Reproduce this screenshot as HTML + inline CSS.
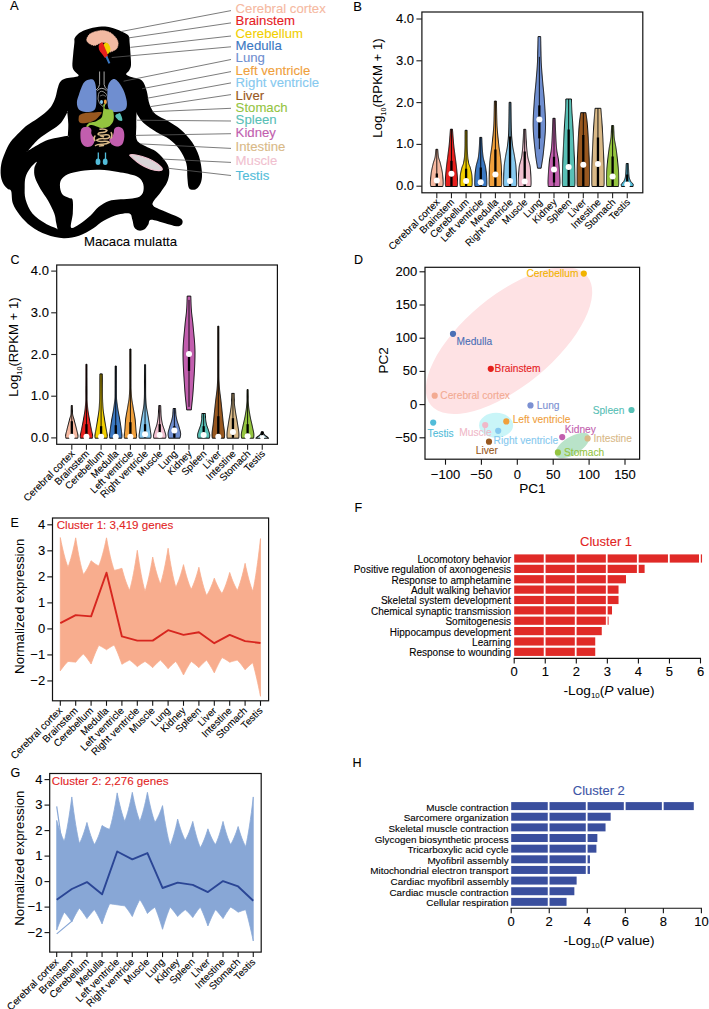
<!DOCTYPE html>
<html><head><meta charset="utf-8"><style>
html,body{margin:0;padding:0;background:#fff;width:709px;height:1009px;overflow:hidden}
svg{display:block}
text{font-family:"Liberation Sans", sans-serif}
</style></head><body>
<svg width="709" height="1009" viewBox="0 0 709 1009" style="font-family:'Liberation Sans', sans-serif">
<rect width="709" height="1009" fill="#fff"/>
<rect x="421.90" y="12.00" width="220.90" height="180.80" fill="none" stroke="#111" stroke-width="1.2"/>
<line x1="416.40" y1="186.20" x2="421.90" y2="186.20" stroke="#222" stroke-width="1.1"/>
<text x="414.10" y="185.70" font-size="13" fill="#000" stroke="#000" stroke-width="0.1" text-anchor="end" dominant-baseline="central">0.0</text>
<line x1="416.40" y1="144.40" x2="421.90" y2="144.40" stroke="#222" stroke-width="1.1"/>
<text x="414.10" y="143.90" font-size="13" fill="#000" stroke="#000" stroke-width="0.1" text-anchor="end" dominant-baseline="central">1.0</text>
<line x1="416.40" y1="102.60" x2="421.90" y2="102.60" stroke="#222" stroke-width="1.1"/>
<text x="414.10" y="102.10" font-size="13" fill="#000" stroke="#000" stroke-width="0.1" text-anchor="end" dominant-baseline="central">2.0</text>
<line x1="416.40" y1="60.80" x2="421.90" y2="60.80" stroke="#222" stroke-width="1.1"/>
<text x="414.10" y="60.30" font-size="13" fill="#000" stroke="#000" stroke-width="0.1" text-anchor="end" dominant-baseline="central">3.0</text>
<line x1="416.40" y1="19.00" x2="421.90" y2="19.00" stroke="#222" stroke-width="1.1"/>
<text x="414.10" y="18.50" font-size="13" fill="#000" stroke="#000" stroke-width="0.1" text-anchor="end" dominant-baseline="central">4.0</text>
<line x1="436.80" y1="192.80" x2="436.80" y2="198.30" stroke="#222" stroke-width="1.1"/>
<line x1="451.45" y1="192.80" x2="451.45" y2="198.30" stroke="#222" stroke-width="1.1"/>
<line x1="466.10" y1="192.80" x2="466.10" y2="198.30" stroke="#222" stroke-width="1.1"/>
<line x1="480.75" y1="192.80" x2="480.75" y2="198.30" stroke="#222" stroke-width="1.1"/>
<line x1="495.40" y1="192.80" x2="495.40" y2="198.30" stroke="#222" stroke-width="1.1"/>
<line x1="510.05" y1="192.80" x2="510.05" y2="198.30" stroke="#222" stroke-width="1.1"/>
<line x1="524.70" y1="192.80" x2="524.70" y2="198.30" stroke="#222" stroke-width="1.1"/>
<line x1="539.35" y1="192.80" x2="539.35" y2="198.30" stroke="#222" stroke-width="1.1"/>
<line x1="554.00" y1="192.80" x2="554.00" y2="198.30" stroke="#222" stroke-width="1.1"/>
<line x1="568.65" y1="192.80" x2="568.65" y2="198.30" stroke="#222" stroke-width="1.1"/>
<line x1="583.30" y1="192.80" x2="583.30" y2="198.30" stroke="#222" stroke-width="1.1"/>
<line x1="597.95" y1="192.80" x2="597.95" y2="198.30" stroke="#222" stroke-width="1.1"/>
<line x1="612.60" y1="192.80" x2="612.60" y2="198.30" stroke="#222" stroke-width="1.1"/>
<line x1="627.25" y1="192.80" x2="627.25" y2="198.30" stroke="#222" stroke-width="1.1"/>
<path d="M442.80,186.50 L442.96,185.50 L443.13,184.50 L443.20,183.50 L443.19,182.40 L443.15,181.30 L443.09,180.20 L443.01,179.10 L442.92,178.00 L442.82,176.90 L442.71,175.80 L442.60,174.70 L442.48,173.68 L442.34,172.66 L442.18,171.65 L441.99,170.63 L441.79,169.61 L441.58,168.59 L441.35,167.57 L441.12,166.55 L440.88,165.54 L440.64,164.52 L440.40,163.50 L440.14,162.50 L439.83,161.50 L439.49,160.50 L439.16,159.50 L438.85,158.50 L438.59,157.50 L438.40,156.50 L438.26,155.47 L438.15,154.44 L438.05,153.41 L437.96,152.39 L437.88,151.36 L437.79,150.33 L437.70,149.30 L435.90,149.30 L435.81,150.33 L435.72,151.36 L435.64,152.39 L435.55,153.41 L435.45,154.44 L435.34,155.47 L435.20,156.50 L435.01,157.50 L434.75,158.50 L434.44,159.50 L434.11,160.50 L433.77,161.50 L433.46,162.50 L433.20,163.50 L432.96,164.52 L432.72,165.54 L432.48,166.55 L432.25,167.57 L432.02,168.59 L431.81,169.61 L431.61,170.63 L431.42,171.65 L431.26,172.66 L431.12,173.68 L431.00,174.70 L430.89,175.80 L430.78,176.90 L430.68,178.00 L430.59,179.10 L430.51,180.20 L430.45,181.30 L430.41,182.40 L430.40,183.50 L430.47,184.50 L430.64,185.50 L430.80,186.50 Z" fill="#f6b9a1" stroke="#111" stroke-width="1.0" stroke-linejoin="round"/>
<line x1="436.80" y1="186.00" x2="436.80" y2="149.30" stroke="#000" stroke-width="0.9"/>
<rect x="435.65" y="173.50" width="2.30" height="12.50" fill="#000" stroke="none" stroke-width="1"/>
<circle cx="436.80" cy="180.50" r="3.0" fill="#fff"/>
<path d="M457.25,186.50 L457.37,185.50 L457.49,184.50 L457.55,183.50 L457.54,182.38 L457.52,181.25 L457.49,180.12 L457.45,179.00 L457.41,177.97 L457.35,176.95 L457.29,175.92 L457.21,174.89 L457.13,173.86 L457.04,172.84 L456.95,171.81 L456.85,170.78 L456.75,169.75 L456.65,168.73 L456.55,167.70 L456.45,166.68 L456.33,165.66 L456.21,164.65 L456.09,163.63 L455.95,162.61 L455.82,161.59 L455.68,160.57 L455.55,159.55 L455.41,158.54 L455.28,157.52 L455.15,156.50 L455.02,155.47 L454.89,154.45 L454.75,153.42 L454.62,152.39 L454.48,151.36 L454.35,150.34 L454.22,149.31 L454.09,148.28 L453.97,147.25 L453.86,146.23 L453.75,145.20 L453.65,144.20 L453.56,143.20 L453.47,142.20 L453.39,141.20 L453.30,140.20 L453.22,139.20 L453.14,138.20 L453.07,137.20 L452.99,136.20 L452.91,135.20 L452.84,134.20 L452.76,133.20 L452.69,132.20 L452.61,131.20 L452.53,130.20 L452.45,129.20 L450.45,129.20 L450.37,130.20 L450.29,131.20 L450.21,132.20 L450.14,133.20 L450.06,134.20 L449.99,135.20 L449.91,136.20 L449.83,137.20 L449.76,138.20 L449.68,139.20 L449.60,140.20 L449.51,141.20 L449.43,142.20 L449.34,143.20 L449.25,144.20 L449.15,145.20 L449.04,146.23 L448.93,147.25 L448.81,148.28 L448.68,149.31 L448.55,150.34 L448.42,151.36 L448.28,152.39 L448.15,153.42 L448.01,154.45 L447.88,155.47 L447.75,156.50 L447.62,157.52 L447.49,158.54 L447.35,159.55 L447.22,160.57 L447.08,161.59 L446.95,162.61 L446.81,163.63 L446.69,164.65 L446.57,165.66 L446.45,166.68 L446.35,167.70 L446.25,168.73 L446.15,169.75 L446.05,170.78 L445.95,171.81 L445.86,172.84 L445.77,173.86 L445.69,174.89 L445.61,175.92 L445.55,176.95 L445.49,177.97 L445.45,179.00 L445.41,180.12 L445.38,181.25 L445.36,182.38 L445.35,183.50 L445.41,184.50 L445.53,185.50 L445.65,186.50 Z" fill="#e6201d" stroke="#111" stroke-width="1.0" stroke-linejoin="round"/>
<line x1="451.45" y1="186.00" x2="451.45" y2="129.20" stroke="#000" stroke-width="0.9"/>
<rect x="450.30" y="160.80" width="2.30" height="25.20" fill="#000" stroke="none" stroke-width="1"/>
<circle cx="451.45" cy="173.80" r="3.0" fill="#fff"/>
<path d="M471.90,186.50 L472.02,185.50 L472.14,184.50 L472.20,183.50 L472.19,182.37 L472.17,181.23 L472.14,180.10 L472.10,178.97 L472.05,177.83 L472.00,176.70 L471.93,175.70 L471.81,174.70 L471.66,173.70 L471.47,172.70 L471.27,171.70 L471.04,170.70 L470.80,169.70 L470.55,168.70 L470.30,167.70 L469.94,166.60 L469.48,165.50 L469.03,164.40 L468.70,163.30 L468.47,162.17 L468.26,161.03 L468.08,159.90 L467.92,158.77 L467.80,157.63 L467.70,156.50 L467.63,155.50 L467.57,154.50 L467.51,153.50 L467.45,152.50 L467.39,151.50 L467.35,150.50 L467.30,149.50 L467.27,148.50 L467.24,147.50 L467.22,146.50 L467.20,145.50 L467.19,144.49 L467.18,143.47 L467.17,142.46 L467.16,141.45 L467.16,140.43 L467.15,139.42 L467.14,138.41 L467.14,137.39 L467.13,136.38 L467.13,135.37 L467.12,134.35 L467.12,133.34 L467.11,132.33 L467.11,131.31 L467.10,130.30 L465.10,130.30 L465.09,131.31 L465.09,132.33 L465.08,133.34 L465.08,134.35 L465.07,135.37 L465.07,136.38 L465.06,137.39 L465.06,138.41 L465.05,139.42 L465.04,140.43 L465.04,141.45 L465.03,142.46 L465.02,143.47 L465.01,144.49 L465.00,145.50 L464.98,146.50 L464.96,147.50 L464.93,148.50 L464.90,149.50 L464.85,150.50 L464.81,151.50 L464.75,152.50 L464.69,153.50 L464.63,154.50 L464.57,155.50 L464.50,156.50 L464.40,157.63 L464.28,158.77 L464.12,159.90 L463.94,161.03 L463.73,162.17 L463.50,163.30 L463.17,164.40 L462.72,165.50 L462.26,166.60 L461.90,167.70 L461.65,168.70 L461.40,169.70 L461.16,170.70 L460.93,171.70 L460.73,172.70 L460.54,173.70 L460.39,174.70 L460.27,175.70 L460.20,176.70 L460.15,177.83 L460.10,178.97 L460.06,180.10 L460.03,181.23 L460.01,182.37 L460.00,183.50 L460.06,184.50 L460.18,185.50 L460.30,186.50 Z" fill="#f2cf00" stroke="#111" stroke-width="1.0" stroke-linejoin="round"/>
<line x1="466.10" y1="186.00" x2="466.10" y2="130.30" stroke="#000" stroke-width="0.9"/>
<rect x="464.95" y="168.70" width="2.30" height="17.30" fill="#000" stroke="none" stroke-width="1"/>
<circle cx="466.10" cy="181.10" r="3.0" fill="#fff"/>
<path d="M486.55,186.50 L486.67,185.50 L486.79,184.50 L486.85,183.50 L486.84,182.50 L486.83,181.50 L486.81,180.50 L486.78,179.50 L486.75,178.50 L486.70,177.42 L486.64,176.34 L486.56,175.26 L486.46,174.18 L486.35,173.10 L486.22,172.02 L486.09,170.94 L485.95,169.86 L485.80,168.78 L485.65,167.70 L485.48,166.68 L485.27,165.66 L485.03,164.65 L484.76,163.63 L484.48,162.61 L484.19,161.59 L483.91,160.57 L483.65,159.55 L483.41,158.54 L483.21,157.52 L483.05,156.50 L482.93,155.50 L482.81,154.50 L482.70,153.50 L482.60,152.50 L482.51,151.50 L482.43,150.50 L482.35,149.50 L482.28,148.50 L482.21,147.50 L482.15,146.50 L482.09,145.49 L482.04,144.48 L482.00,143.47 L481.95,142.46 L481.91,141.44 L481.87,140.43 L481.83,139.42 L481.79,138.41 L481.75,137.40 L479.75,137.40 L479.71,138.41 L479.67,139.42 L479.63,140.43 L479.59,141.44 L479.55,142.46 L479.50,143.47 L479.46,144.48 L479.41,145.49 L479.35,146.50 L479.29,147.50 L479.22,148.50 L479.15,149.50 L479.07,150.50 L478.99,151.50 L478.90,152.50 L478.80,153.50 L478.69,154.50 L478.57,155.50 L478.45,156.50 L478.29,157.52 L478.09,158.54 L477.85,159.55 L477.59,160.57 L477.31,161.59 L477.02,162.61 L476.74,163.63 L476.47,164.65 L476.23,165.66 L476.02,166.68 L475.85,167.70 L475.70,168.78 L475.55,169.86 L475.41,170.94 L475.28,172.02 L475.15,173.10 L475.04,174.18 L474.94,175.26 L474.86,176.34 L474.80,177.42 L474.75,178.50 L474.72,179.50 L474.69,180.50 L474.67,181.50 L474.66,182.50 L474.65,183.50 L474.71,184.50 L474.83,185.50 L474.95,186.50 Z" fill="#3b78c2" stroke="#111" stroke-width="1.0" stroke-linejoin="round"/>
<line x1="480.75" y1="186.00" x2="480.75" y2="137.40" stroke="#000" stroke-width="0.9"/>
<rect x="479.60" y="167.50" width="2.30" height="18.50" fill="#000" stroke="none" stroke-width="1"/>
<circle cx="480.75" cy="182.20" r="3.0" fill="#fff"/>
<path d="M501.40,186.50 L501.52,185.50 L501.64,184.50 L501.70,183.50 L501.70,182.45 L501.69,181.39 L501.68,180.34 L501.67,179.29 L501.66,178.23 L501.64,177.18 L501.62,176.13 L501.60,175.07 L501.58,174.02 L501.55,172.97 L501.52,171.91 L501.49,170.86 L501.46,169.81 L501.43,168.75 L501.40,167.70 L501.36,166.68 L501.30,165.66 L501.23,164.65 L501.15,163.63 L501.06,162.61 L500.96,161.59 L500.85,160.57 L500.74,159.55 L500.63,158.54 L500.51,157.52 L500.40,156.50 L500.28,155.47 L500.14,154.45 L499.99,153.42 L499.84,152.39 L499.68,151.36 L499.51,150.34 L499.35,149.31 L499.20,148.28 L499.05,147.25 L498.92,146.23 L498.80,145.20 L498.69,144.17 L498.58,143.15 L498.47,142.12 L498.37,141.09 L498.26,140.06 L498.15,139.04 L498.05,138.01 L497.95,136.98 L497.85,135.95 L497.75,134.93 L497.65,133.90 L497.56,132.87 L497.48,131.85 L497.39,130.82 L497.31,129.79 L497.24,128.76 L497.17,127.74 L497.10,126.71 L497.04,125.68 L496.99,124.65 L496.94,123.63 L496.90,122.60 L496.86,121.58 L496.83,120.55 L496.80,119.53 L496.77,118.50 L496.74,117.48 L496.72,116.46 L496.69,115.43 L496.67,114.41 L496.65,113.39 L496.62,112.36 L496.60,111.34 L496.58,110.31 L496.57,109.29 L496.55,108.27 L496.53,107.24 L496.51,106.22 L496.49,105.20 L496.47,104.17 L496.45,103.15 L496.42,102.12 L496.40,101.10 L494.40,101.10 L494.38,102.12 L494.35,103.15 L494.33,104.17 L494.31,105.20 L494.29,106.22 L494.27,107.24 L494.25,108.27 L494.23,109.29 L494.22,110.31 L494.20,111.34 L494.18,112.36 L494.15,113.39 L494.13,114.41 L494.11,115.43 L494.08,116.46 L494.06,117.48 L494.03,118.50 L494.00,119.53 L493.97,120.55 L493.94,121.58 L493.90,122.60 L493.86,123.63 L493.81,124.65 L493.76,125.68 L493.70,126.71 L493.63,127.74 L493.56,128.76 L493.49,129.79 L493.41,130.82 L493.32,131.85 L493.24,132.87 L493.15,133.90 L493.05,134.93 L492.95,135.95 L492.85,136.98 L492.75,138.01 L492.65,139.04 L492.54,140.06 L492.43,141.09 L492.33,142.12 L492.22,143.15 L492.11,144.17 L492.00,145.20 L491.88,146.23 L491.75,147.25 L491.60,148.28 L491.45,149.31 L491.29,150.34 L491.12,151.36 L490.96,152.39 L490.81,153.42 L490.66,154.45 L490.52,155.47 L490.40,156.50 L490.29,157.52 L490.17,158.54 L490.06,159.55 L489.95,160.57 L489.84,161.59 L489.74,162.61 L489.65,163.63 L489.57,164.65 L489.50,165.66 L489.44,166.68 L489.40,167.70 L489.37,168.75 L489.34,169.81 L489.31,170.86 L489.28,171.91 L489.25,172.97 L489.22,174.02 L489.20,175.07 L489.18,176.13 L489.16,177.18 L489.14,178.23 L489.13,179.29 L489.12,180.34 L489.11,181.39 L489.10,182.45 L489.10,183.50 L489.16,184.50 L489.28,185.50 L489.40,186.50 Z" fill="#f0a03c" stroke="#111" stroke-width="1.0" stroke-linejoin="round"/>
<line x1="495.40" y1="186.00" x2="495.40" y2="101.10" stroke="#000" stroke-width="0.9"/>
<rect x="494.25" y="149.50" width="2.30" height="36.50" fill="#000" stroke="none" stroke-width="1"/>
<circle cx="495.40" cy="174.50" r="3.0" fill="#fff"/>
<path d="M516.25,186.50 L516.37,185.50 L516.49,184.50 L516.55,183.50 L516.55,182.45 L516.54,181.39 L516.52,180.34 L516.50,179.29 L516.48,178.23 L516.45,177.18 L516.42,176.13 L516.38,175.07 L516.34,174.02 L516.30,172.97 L516.25,171.91 L516.21,170.86 L516.16,169.81 L516.10,168.75 L516.05,167.70 L515.98,166.68 L515.90,165.66 L515.79,164.65 L515.66,163.63 L515.52,162.61 L515.36,161.59 L515.20,160.57 L515.04,159.55 L514.87,158.54 L514.71,157.52 L514.55,156.50 L514.38,155.47 L514.20,154.45 L514.01,153.42 L513.81,152.39 L513.60,151.36 L513.40,150.34 L513.20,149.31 L513.01,148.28 L512.84,147.25 L512.68,146.23 L512.55,145.20 L512.43,144.17 L512.31,143.15 L512.19,142.12 L512.08,141.09 L511.98,140.06 L511.88,139.04 L511.79,138.01 L511.71,136.98 L511.64,135.95 L511.59,134.93 L511.55,133.90 L511.52,132.88 L511.49,131.86 L511.46,130.84 L511.43,129.82 L511.41,128.80 L511.39,127.78 L511.36,126.76 L511.34,125.75 L511.32,124.73 L511.30,123.71 L511.28,122.69 L511.26,121.67 L511.24,120.65 L511.23,119.63 L511.21,118.61 L511.19,117.59 L511.18,116.57 L511.16,115.55 L511.15,114.53 L511.13,113.51 L511.12,112.49 L511.10,111.47 L511.09,110.45 L511.07,109.44 L511.05,108.42 L511.04,107.40 L511.02,106.38 L511.00,105.36 L510.99,104.34 L510.97,103.32 L510.95,102.30 L509.15,102.30 L509.13,103.32 L509.11,104.34 L509.10,105.36 L509.08,106.38 L509.06,107.40 L509.05,108.42 L509.03,109.44 L509.01,110.45 L509.00,111.47 L508.98,112.49 L508.97,113.51 L508.95,114.53 L508.94,115.55 L508.92,116.57 L508.91,117.59 L508.89,118.61 L508.87,119.63 L508.86,120.65 L508.84,121.67 L508.82,122.69 L508.80,123.71 L508.78,124.73 L508.76,125.75 L508.74,126.76 L508.71,127.78 L508.69,128.80 L508.67,129.82 L508.64,130.84 L508.61,131.86 L508.58,132.88 L508.55,133.90 L508.51,134.93 L508.46,135.95 L508.39,136.98 L508.31,138.01 L508.22,139.04 L508.12,140.06 L508.02,141.09 L507.91,142.12 L507.79,143.15 L507.67,144.17 L507.55,145.20 L507.42,146.23 L507.26,147.25 L507.09,148.28 L506.90,149.31 L506.70,150.34 L506.50,151.36 L506.29,152.39 L506.09,153.42 L505.90,154.45 L505.72,155.47 L505.55,156.50 L505.39,157.52 L505.23,158.54 L505.06,159.55 L504.90,160.57 L504.74,161.59 L504.58,162.61 L504.44,163.63 L504.31,164.65 L504.20,165.66 L504.12,166.68 L504.05,167.70 L504.00,168.75 L503.94,169.81 L503.89,170.86 L503.85,171.91 L503.80,172.97 L503.76,174.02 L503.72,175.07 L503.68,176.13 L503.65,177.18 L503.62,178.23 L503.60,179.29 L503.58,180.34 L503.56,181.39 L503.55,182.45 L503.55,183.50 L503.61,184.50 L503.73,185.50 L503.85,186.50 Z" fill="#86c9ef" stroke="#111" stroke-width="1.0" stroke-linejoin="round"/>
<line x1="510.05" y1="186.00" x2="510.05" y2="102.30" stroke="#000" stroke-width="0.9"/>
<rect x="508.90" y="136.50" width="2.30" height="49.50" fill="#000" stroke="none" stroke-width="1"/>
<circle cx="510.05" cy="181.00" r="3.0" fill="#fff"/>
<path d="M530.80,186.50 L530.92,185.50 L531.04,184.50 L531.10,183.50 L531.10,182.45 L531.08,181.39 L531.06,180.34 L531.03,179.29 L530.99,178.23 L530.94,177.18 L530.89,176.13 L530.83,175.07 L530.77,174.02 L530.70,172.97 L530.63,171.91 L530.55,170.86 L530.47,169.81 L530.39,168.75 L530.30,167.70 L530.18,166.68 L530.00,165.66 L529.78,164.65 L529.52,163.63 L529.23,162.61 L528.94,161.59 L528.64,160.57 L528.36,159.55 L528.10,158.54 L527.88,157.52 L527.70,156.50 L527.55,155.47 L527.42,154.45 L527.29,153.42 L527.16,152.39 L527.05,151.36 L526.94,150.34 L526.84,149.31 L526.74,148.28 L526.65,147.25 L526.57,146.23 L526.50,145.20 L526.43,144.14 L526.36,143.08 L526.30,142.02 L526.25,140.96 L526.19,139.90 L526.14,138.84 L526.09,137.78 L526.04,136.72 L525.99,135.66 L525.95,134.60 L525.90,133.54 L525.85,132.48 L525.80,131.42 L525.75,130.36 L525.70,129.30 L523.70,129.30 L523.65,130.36 L523.60,131.42 L523.55,132.48 L523.50,133.54 L523.45,134.60 L523.41,135.66 L523.36,136.72 L523.31,137.78 L523.26,138.84 L523.21,139.90 L523.15,140.96 L523.10,142.02 L523.04,143.08 L522.97,144.14 L522.90,145.20 L522.83,146.23 L522.75,147.25 L522.66,148.28 L522.56,149.31 L522.46,150.34 L522.35,151.36 L522.24,152.39 L522.11,153.42 L521.98,154.45 L521.85,155.47 L521.70,156.50 L521.52,157.52 L521.30,158.54 L521.04,159.55 L520.76,160.57 L520.46,161.59 L520.17,162.61 L519.88,163.63 L519.62,164.65 L519.40,165.66 L519.22,166.68 L519.10,167.70 L519.01,168.75 L518.93,169.81 L518.85,170.86 L518.77,171.91 L518.70,172.97 L518.63,174.02 L518.57,175.07 L518.51,176.13 L518.46,177.18 L518.41,178.23 L518.37,179.29 L518.34,180.34 L518.32,181.39 L518.30,182.45 L518.30,183.50 L518.36,184.50 L518.48,185.50 L518.60,186.50 Z" fill="#f1bfcf" stroke="#111" stroke-width="1.0" stroke-linejoin="round"/>
<line x1="524.70" y1="186.00" x2="524.70" y2="129.30" stroke="#000" stroke-width="0.9"/>
<rect x="523.55" y="151.50" width="2.30" height="34.50" fill="#000" stroke="none" stroke-width="1"/>
<circle cx="524.70" cy="181.60" r="3.0" fill="#fff"/>
<path d="M541.15,168.20 L541.30,167.20 L541.45,166.20 L541.61,165.20 L541.77,164.20 L541.94,163.20 L542.10,162.20 L542.26,161.20 L542.42,160.20 L542.57,159.20 L542.72,158.20 L542.86,157.20 L543.00,156.20 L543.13,155.20 L543.24,154.20 L543.35,153.20 L543.45,152.20 L543.55,151.20 L543.66,150.20 L543.76,149.20 L543.87,148.20 L543.97,147.20 L544.08,146.20 L544.18,145.20 L544.28,144.20 L544.38,143.20 L544.48,142.20 L544.58,141.20 L544.68,140.20 L544.77,139.20 L544.86,138.20 L544.94,137.20 L545.02,136.20 L545.10,135.20 L545.17,134.20 L545.24,133.20 L545.30,132.20 L545.36,131.20 L545.40,130.20 L545.45,129.20 L545.48,128.20 L545.51,127.20 L545.53,126.20 L545.55,125.20 L545.55,124.20 L545.55,123.20 L545.54,122.20 L545.52,121.20 L545.50,120.20 L545.47,119.20 L545.43,118.20 L545.40,117.20 L545.35,116.20 L545.31,115.20 L545.25,114.20 L545.20,113.20 L545.14,112.20 L545.08,111.20 L545.02,110.20 L544.96,109.20 L544.89,108.20 L544.82,107.20 L544.75,106.20 L544.69,105.20 L544.62,104.20 L544.55,103.20 L544.48,102.20 L544.42,101.20 L544.35,100.20 L544.28,99.20 L544.21,98.20 L544.13,97.20 L544.05,96.20 L543.96,95.20 L543.87,94.20 L543.78,93.20 L543.68,92.20 L543.58,91.20 L543.49,90.20 L543.39,89.20 L543.29,88.20 L543.19,87.20 L543.09,86.20 L542.99,85.20 L542.90,84.20 L542.81,83.20 L542.72,82.20 L542.63,81.20 L542.55,80.20 L542.47,79.20 L542.39,78.20 L542.31,77.20 L542.22,76.20 L542.14,75.20 L542.06,74.20 L541.97,73.20 L541.89,72.20 L541.81,71.20 L541.73,70.20 L541.66,69.20 L541.59,68.20 L541.52,67.20 L541.45,66.20 L541.39,65.20 L541.33,64.20 L541.28,63.20 L541.23,62.20 L541.19,61.20 L541.15,60.20 L541.12,59.17 L541.09,58.15 L541.06,57.12 L541.03,56.10 L541.01,55.07 L540.98,54.04 L540.96,53.02 L540.94,51.99 L540.92,50.97 L540.90,49.94 L540.88,48.91 L540.86,47.89 L540.84,46.86 L540.82,45.83 L540.80,44.81 L540.78,43.78 L540.77,42.76 L540.75,41.73 L540.73,40.70 L540.71,39.68 L540.69,38.65 L540.67,37.63 L540.65,36.60 L538.05,36.60 L538.03,37.63 L538.01,38.65 L537.99,39.68 L537.97,40.70 L537.95,41.73 L537.93,42.76 L537.92,43.78 L537.90,44.81 L537.88,45.83 L537.86,46.86 L537.84,47.89 L537.82,48.91 L537.80,49.94 L537.78,50.97 L537.76,51.99 L537.74,53.02 L537.72,54.04 L537.69,55.07 L537.67,56.10 L537.64,57.12 L537.61,58.15 L537.58,59.17 L537.55,60.20 L537.51,61.20 L537.47,62.20 L537.42,63.20 L537.37,64.20 L537.31,65.20 L537.25,66.20 L537.18,67.20 L537.11,68.20 L537.04,69.20 L536.97,70.20 L536.89,71.20 L536.81,72.20 L536.73,73.20 L536.64,74.20 L536.56,75.20 L536.48,76.20 L536.39,77.20 L536.31,78.20 L536.23,79.20 L536.15,80.20 L536.07,81.20 L535.98,82.20 L535.89,83.20 L535.80,84.20 L535.71,85.20 L535.61,86.20 L535.51,87.20 L535.41,88.20 L535.31,89.20 L535.21,90.20 L535.12,91.20 L535.02,92.20 L534.92,93.20 L534.83,94.20 L534.74,95.20 L534.65,96.20 L534.57,97.20 L534.49,98.20 L534.42,99.20 L534.35,100.20 L534.28,101.20 L534.22,102.20 L534.15,103.20 L534.08,104.20 L534.01,105.20 L533.95,106.20 L533.88,107.20 L533.81,108.20 L533.74,109.20 L533.68,110.20 L533.62,111.20 L533.56,112.20 L533.50,113.20 L533.45,114.20 L533.39,115.20 L533.35,116.20 L533.30,117.20 L533.27,118.20 L533.23,119.20 L533.20,120.20 L533.18,121.20 L533.16,122.20 L533.15,123.20 L533.15,124.20 L533.15,125.20 L533.17,126.20 L533.19,127.20 L533.22,128.20 L533.25,129.20 L533.30,130.20 L533.34,131.20 L533.40,132.20 L533.46,133.20 L533.53,134.20 L533.60,135.20 L533.68,136.20 L533.76,137.20 L533.84,138.20 L533.93,139.20 L534.02,140.20 L534.12,141.20 L534.22,142.20 L534.32,143.20 L534.42,144.20 L534.52,145.20 L534.62,146.20 L534.73,147.20 L534.83,148.20 L534.94,149.20 L535.04,150.20 L535.15,151.20 L535.25,152.20 L535.35,153.20 L535.46,154.20 L535.57,155.20 L535.70,156.20 L535.84,157.20 L535.98,158.20 L536.13,159.20 L536.28,160.20 L536.44,161.20 L536.60,162.20 L536.76,163.20 L536.93,164.20 L537.09,165.20 L537.25,166.20 L537.40,167.20 L537.55,168.20 Z" fill="#6f8ed0" stroke="#111" stroke-width="1.0" stroke-linejoin="round"/>
<line x1="539.35" y1="149.20" x2="539.35" y2="56.80" stroke="#000" stroke-width="0.9"/>
<rect x="538.20" y="105.40" width="2.30" height="33.00" fill="#000" stroke="none" stroke-width="1"/>
<circle cx="539.35" cy="119.50" r="3.0" fill="#fff"/>
<path d="M559.70,186.50 L559.79,185.50 L559.89,184.50 L559.97,183.50 L560.00,182.50 L559.99,181.50 L559.97,180.50 L559.93,179.50 L559.89,178.50 L559.84,177.50 L559.78,176.50 L559.72,175.50 L559.66,174.50 L559.60,173.50 L559.54,172.46 L559.47,171.42 L559.41,170.38 L559.33,169.33 L559.26,168.29 L559.18,167.25 L559.09,166.21 L559.00,165.17 L558.91,164.12 L558.81,163.08 L558.71,162.04 L558.60,161.00 L558.48,159.97 L558.33,158.95 L558.16,157.93 L557.97,156.90 L557.78,155.88 L557.58,154.85 L557.38,153.82 L557.19,152.80 L557.01,151.78 L556.85,150.75 L556.71,149.72 L556.60,148.70 L556.51,147.67 L556.42,146.63 L556.34,145.60 L556.27,144.57 L556.20,143.53 L556.13,142.50 L556.07,141.47 L556.01,140.43 L555.96,139.40 L555.90,138.37 L555.85,137.33 L555.80,136.30 L555.75,135.30 L555.71,134.30 L555.66,133.30 L555.62,132.30 L555.58,131.30 L555.54,130.30 L555.50,129.30 L555.47,128.30 L555.43,127.30 L555.39,126.30 L555.36,125.30 L555.32,124.30 L555.28,123.30 L555.25,122.30 L555.21,121.30 L555.18,120.30 L555.14,119.30 L555.10,118.30 L552.90,118.30 L552.86,119.30 L552.82,120.30 L552.79,121.30 L552.75,122.30 L552.72,123.30 L552.68,124.30 L552.64,125.30 L552.61,126.30 L552.57,127.30 L552.53,128.30 L552.50,129.30 L552.46,130.30 L552.42,131.30 L552.38,132.30 L552.34,133.30 L552.29,134.30 L552.25,135.30 L552.20,136.30 L552.15,137.33 L552.10,138.37 L552.04,139.40 L551.99,140.43 L551.93,141.47 L551.87,142.50 L551.80,143.53 L551.73,144.57 L551.66,145.60 L551.58,146.63 L551.49,147.67 L551.40,148.70 L551.29,149.72 L551.15,150.75 L550.99,151.78 L550.81,152.80 L550.62,153.82 L550.42,154.85 L550.22,155.88 L550.03,156.90 L549.84,157.93 L549.67,158.95 L549.52,159.97 L549.40,161.00 L549.29,162.04 L549.19,163.08 L549.09,164.12 L549.00,165.17 L548.91,166.21 L548.82,167.25 L548.74,168.29 L548.67,169.33 L548.59,170.38 L548.53,171.42 L548.46,172.46 L548.40,173.50 L548.34,174.50 L548.28,175.50 L548.22,176.50 L548.16,177.50 L548.11,178.50 L548.07,179.50 L548.03,180.50 L548.01,181.50 L548.00,182.50 L548.03,183.50 L548.11,184.50 L548.21,185.50 L548.30,186.50 Z" fill="#c25eae" stroke="#111" stroke-width="1.0" stroke-linejoin="round"/>
<line x1="554.00" y1="186.00" x2="554.00" y2="118.30" stroke="#000" stroke-width="0.9"/>
<rect x="552.85" y="156.80" width="2.30" height="25.70" fill="#000" stroke="none" stroke-width="1"/>
<circle cx="554.00" cy="169.60" r="3.0" fill="#fff"/>
<path d="M574.65,186.50 L574.74,185.50 L574.84,184.50 L574.92,183.50 L574.95,182.50 L574.95,181.50 L574.94,180.50 L574.94,179.50 L574.93,178.50 L574.91,177.50 L574.90,176.50 L574.88,175.50 L574.87,174.50 L574.85,173.50 L574.83,172.47 L574.81,171.43 L574.79,170.40 L574.76,169.37 L574.73,168.33 L574.70,167.30 L574.67,166.27 L574.63,165.23 L574.59,164.20 L574.56,163.17 L574.52,162.13 L574.48,161.10 L574.43,160.07 L574.39,159.03 L574.35,158.00 L574.30,156.97 L574.26,155.93 L574.22,154.90 L574.17,153.87 L574.13,152.83 L574.08,151.80 L574.04,150.77 L573.99,149.73 L573.95,148.70 L573.91,147.67 L573.86,146.63 L573.82,145.60 L573.77,144.57 L573.73,143.53 L573.68,142.50 L573.63,141.47 L573.59,140.43 L573.54,139.40 L573.49,138.37 L573.44,137.33 L573.39,136.30 L573.34,135.27 L573.29,134.23 L573.24,133.20 L573.19,132.17 L573.13,131.13 L573.08,130.10 L573.03,129.07 L572.97,128.03 L572.92,127.00 L572.86,125.97 L572.81,124.93 L572.75,123.90 L572.69,122.88 L572.63,121.85 L572.56,120.83 L572.49,119.81 L572.42,118.78 L572.35,117.76 L572.27,116.74 L572.20,115.71 L572.13,114.69 L572.05,113.66 L571.98,112.64 L571.92,111.62 L571.85,110.59 L571.79,109.57 L571.74,108.55 L571.69,107.52 L571.65,106.50 L571.61,105.43 L571.58,104.36 L571.55,103.29 L571.53,102.21 L571.50,101.14 L571.48,100.07 L571.45,99.00 L565.85,99.00 L565.82,100.07 L565.80,101.14 L565.77,102.21 L565.75,103.29 L565.72,104.36 L565.69,105.43 L565.65,106.50 L565.61,107.52 L565.56,108.55 L565.51,109.57 L565.45,110.59 L565.38,111.62 L565.32,112.64 L565.25,113.66 L565.17,114.69 L565.10,115.71 L565.03,116.74 L564.95,117.76 L564.88,118.78 L564.81,119.81 L564.74,120.83 L564.67,121.85 L564.61,122.88 L564.55,123.90 L564.49,124.93 L564.44,125.97 L564.38,127.00 L564.33,128.03 L564.27,129.07 L564.22,130.10 L564.17,131.13 L564.11,132.17 L564.06,133.20 L564.01,134.23 L563.96,135.27 L563.91,136.30 L563.86,137.33 L563.81,138.37 L563.76,139.40 L563.71,140.43 L563.67,141.47 L563.62,142.50 L563.57,143.53 L563.53,144.57 L563.48,145.60 L563.44,146.63 L563.39,147.67 L563.35,148.70 L563.31,149.73 L563.26,150.77 L563.22,151.80 L563.17,152.83 L563.13,153.87 L563.08,154.90 L563.04,155.93 L563.00,156.97 L562.95,158.00 L562.91,159.03 L562.87,160.07 L562.82,161.10 L562.78,162.13 L562.74,163.17 L562.71,164.20 L562.67,165.23 L562.63,166.27 L562.60,167.30 L562.57,168.33 L562.54,169.37 L562.51,170.40 L562.49,171.43 L562.47,172.47 L562.45,173.50 L562.43,174.50 L562.42,175.50 L562.40,176.50 L562.39,177.50 L562.37,178.50 L562.36,179.50 L562.36,180.50 L562.35,181.50 L562.35,182.50 L562.38,183.50 L562.46,184.50 L562.56,185.50 L562.65,186.50 Z" fill="#58c0b6" stroke="#111" stroke-width="1.0" stroke-linejoin="round"/>
<line x1="568.65" y1="186.00" x2="568.65" y2="99.00" stroke="#000" stroke-width="0.9"/>
<rect x="567.50" y="129.50" width="2.30" height="56.50" fill="#000" stroke="none" stroke-width="1"/>
<circle cx="568.65" cy="166.90" r="3.0" fill="#fff"/>
<path d="M589.20,186.50 L589.32,185.50 L589.44,184.50 L589.50,183.50 L589.50,182.50 L589.50,181.50 L589.50,180.50 L589.50,179.50 L589.50,178.50 L589.50,177.50 L589.50,176.50 L589.50,175.50 L589.50,174.50 L589.50,173.50 L589.50,172.47 L589.49,171.43 L589.48,170.40 L589.47,169.37 L589.45,168.33 L589.44,167.30 L589.41,166.27 L589.39,165.23 L589.36,164.20 L589.33,163.17 L589.30,162.13 L589.27,161.10 L589.23,160.07 L589.20,159.03 L589.16,158.00 L589.12,156.97 L589.08,155.93 L589.04,154.90 L589.00,153.87 L588.96,152.83 L588.92,151.80 L588.88,150.77 L588.84,149.73 L588.80,148.70 L588.76,147.67 L588.72,146.63 L588.67,145.60 L588.63,144.57 L588.58,143.53 L588.53,142.50 L588.47,141.47 L588.42,140.43 L588.36,139.40 L588.31,138.37 L588.25,137.33 L588.18,136.30 L588.12,135.27 L588.05,134.23 L587.99,133.20 L587.92,132.17 L587.85,131.13 L587.77,130.10 L587.70,129.07 L587.62,128.03 L587.54,127.00 L587.47,125.97 L587.38,124.93 L587.30,123.90 L587.21,122.88 L587.10,121.86 L586.99,120.85 L586.86,119.83 L586.73,118.81 L586.59,117.79 L586.45,116.77 L586.31,115.75 L586.17,114.74 L586.03,113.72 L585.90,112.70 L580.70,112.70 L580.57,113.72 L580.43,114.74 L580.29,115.75 L580.15,116.77 L580.01,117.79 L579.87,118.81 L579.74,119.83 L579.61,120.85 L579.50,121.86 L579.39,122.88 L579.30,123.90 L579.22,124.93 L579.13,125.97 L579.06,127.00 L578.98,128.03 L578.90,129.07 L578.83,130.10 L578.75,131.13 L578.68,132.17 L578.61,133.20 L578.55,134.23 L578.48,135.27 L578.42,136.30 L578.35,137.33 L578.29,138.37 L578.24,139.40 L578.18,140.43 L578.13,141.47 L578.07,142.50 L578.02,143.53 L577.97,144.57 L577.93,145.60 L577.88,146.63 L577.84,147.67 L577.80,148.70 L577.76,149.73 L577.72,150.77 L577.68,151.80 L577.64,152.83 L577.60,153.87 L577.56,154.90 L577.52,155.93 L577.48,156.97 L577.44,158.00 L577.40,159.03 L577.37,160.07 L577.33,161.10 L577.30,162.13 L577.27,163.17 L577.24,164.20 L577.21,165.23 L577.19,166.27 L577.16,167.30 L577.15,168.33 L577.13,169.37 L577.12,170.40 L577.11,171.43 L577.10,172.47 L577.10,173.50 L577.10,174.50 L577.10,175.50 L577.10,176.50 L577.10,177.50 L577.10,178.50 L577.10,179.50 L577.10,180.50 L577.10,181.50 L577.10,182.50 L577.10,183.50 L577.16,184.50 L577.28,185.50 L577.40,186.50 Z" fill="#985820" stroke="#111" stroke-width="1.0" stroke-linejoin="round"/>
<line x1="583.30" y1="186.00" x2="583.30" y2="112.70" stroke="#000" stroke-width="0.9"/>
<rect x="582.15" y="135.00" width="2.30" height="51.00" fill="#000" stroke="none" stroke-width="1"/>
<circle cx="583.30" cy="164.80" r="3.0" fill="#fff"/>
<path d="M603.85,186.50 L603.97,185.50 L604.09,184.50 L604.15,183.50 L604.15,182.50 L604.15,181.50 L604.15,180.50 L604.15,179.50 L604.15,178.50 L604.15,177.50 L604.15,176.50 L604.15,175.50 L604.15,174.50 L604.15,173.50 L604.15,172.47 L604.14,171.43 L604.13,170.40 L604.11,169.37 L604.09,168.33 L604.07,167.30 L604.05,166.27 L604.02,165.23 L603.98,164.20 L603.95,163.17 L603.91,162.13 L603.87,161.10 L603.83,160.07 L603.79,159.03 L603.75,158.00 L603.70,156.97 L603.66,155.93 L603.61,154.90 L603.57,153.87 L603.52,152.83 L603.48,151.80 L603.44,150.77 L603.39,149.73 L603.35,148.70 L603.31,147.67 L603.26,146.63 L603.22,145.60 L603.17,144.57 L603.13,143.53 L603.08,142.50 L603.03,141.47 L602.98,140.43 L602.93,139.40 L602.88,138.37 L602.82,137.33 L602.77,136.30 L602.71,135.27 L602.66,134.23 L602.60,133.20 L602.54,132.17 L602.48,131.13 L602.42,130.10 L602.36,129.07 L602.30,128.03 L602.24,127.00 L602.18,125.97 L602.11,124.93 L602.05,123.90 L601.98,122.86 L601.91,121.82 L601.84,120.78 L601.76,119.74 L601.68,118.70 L601.60,117.66 L601.52,116.62 L601.44,115.58 L601.35,114.54 L601.27,113.50 L601.18,112.46 L601.10,111.42 L601.01,110.38 L600.93,109.34 L600.85,108.30 L595.05,108.30 L594.97,109.34 L594.89,110.38 L594.80,111.42 L594.72,112.46 L594.63,113.50 L594.55,114.54 L594.46,115.58 L594.38,116.62 L594.30,117.66 L594.22,118.70 L594.14,119.74 L594.06,120.78 L593.99,121.82 L593.92,122.86 L593.85,123.90 L593.79,124.93 L593.72,125.97 L593.66,127.00 L593.60,128.03 L593.54,129.07 L593.48,130.10 L593.42,131.13 L593.36,132.17 L593.30,133.20 L593.24,134.23 L593.19,135.27 L593.13,136.30 L593.08,137.33 L593.02,138.37 L592.97,139.40 L592.92,140.43 L592.87,141.47 L592.82,142.50 L592.77,143.53 L592.73,144.57 L592.68,145.60 L592.64,146.63 L592.59,147.67 L592.55,148.70 L592.51,149.73 L592.46,150.77 L592.42,151.80 L592.38,152.83 L592.33,153.87 L592.29,154.90 L592.24,155.93 L592.20,156.97 L592.15,158.00 L592.11,159.03 L592.07,160.07 L592.03,161.10 L591.99,162.13 L591.95,163.17 L591.92,164.20 L591.88,165.23 L591.85,166.27 L591.83,167.30 L591.81,168.33 L591.79,169.37 L591.77,170.40 L591.76,171.43 L591.75,172.47 L591.75,173.50 L591.75,174.50 L591.75,175.50 L591.75,176.50 L591.75,177.50 L591.75,178.50 L591.75,179.50 L591.75,180.50 L591.75,181.50 L591.75,182.50 L591.75,183.50 L591.81,184.50 L591.93,185.50 L592.05,186.50 Z" fill="#d9b987" stroke="#111" stroke-width="1.0" stroke-linejoin="round"/>
<line x1="597.95" y1="186.00" x2="597.95" y2="108.30" stroke="#000" stroke-width="0.9"/>
<rect x="596.80" y="137.50" width="2.30" height="48.50" fill="#000" stroke="none" stroke-width="1"/>
<circle cx="597.95" cy="164.00" r="3.0" fill="#fff"/>
<path d="M618.40,186.50 L618.52,185.50 L618.64,184.50 L618.70,183.50 L618.70,182.50 L618.70,181.50 L618.69,180.50 L618.68,179.50 L618.67,178.50 L618.66,177.50 L618.65,176.50 L618.63,175.50 L618.62,174.50 L618.60,173.50 L618.57,172.46 L618.53,171.42 L618.47,170.38 L618.40,169.33 L618.31,168.29 L618.22,167.25 L618.12,166.21 L618.02,165.17 L617.92,164.12 L617.81,163.08 L617.70,162.04 L617.60,161.00 L617.50,159.97 L617.39,158.95 L617.28,157.93 L617.16,156.90 L617.04,155.88 L616.91,154.85 L616.79,153.82 L616.65,152.80 L616.52,151.78 L616.38,150.75 L616.24,149.72 L616.10,148.70 L615.95,147.67 L615.77,146.63 L615.59,145.60 L615.39,144.57 L615.19,143.53 L615.00,142.50 L614.81,141.47 L614.62,140.43 L614.46,139.40 L614.31,138.37 L614.19,137.33 L614.10,136.30 L614.03,135.23 L613.96,134.16 L613.91,133.09 L613.86,132.02 L613.82,130.95 L613.77,129.88 L613.73,128.81 L613.69,127.74 L613.65,126.67 L613.60,125.60 L611.60,125.60 L611.55,126.67 L611.51,127.74 L611.47,128.81 L611.43,129.88 L611.38,130.95 L611.34,132.02 L611.29,133.09 L611.24,134.16 L611.17,135.23 L611.10,136.30 L611.01,137.33 L610.89,138.37 L610.74,139.40 L610.58,140.43 L610.39,141.47 L610.20,142.50 L610.01,143.53 L609.81,144.57 L609.61,145.60 L609.43,146.63 L609.25,147.67 L609.10,148.70 L608.96,149.72 L608.82,150.75 L608.68,151.78 L608.55,152.80 L608.41,153.82 L608.29,154.85 L608.16,155.88 L608.04,156.90 L607.92,157.93 L607.81,158.95 L607.70,159.97 L607.60,161.00 L607.50,162.04 L607.39,163.08 L607.28,164.12 L607.18,165.17 L607.08,166.21 L606.98,167.25 L606.89,168.29 L606.80,169.33 L606.73,170.38 L606.67,171.42 L606.63,172.46 L606.60,173.50 L606.58,174.50 L606.57,175.50 L606.55,176.50 L606.54,177.50 L606.53,178.50 L606.52,179.50 L606.51,180.50 L606.50,181.50 L606.50,182.50 L606.50,183.50 L606.56,184.50 L606.68,185.50 L606.80,186.50 Z" fill="#94c43f" stroke="#111" stroke-width="1.0" stroke-linejoin="round"/>
<line x1="612.60" y1="186.00" x2="612.60" y2="125.60" stroke="#000" stroke-width="0.9"/>
<rect x="611.45" y="156.50" width="2.30" height="29.50" fill="#000" stroke="none" stroke-width="1"/>
<circle cx="612.60" cy="176.40" r="3.0" fill="#fff"/>
<path d="M633.05,186.50 L633.13,185.83 L633.21,185.17 L633.25,184.50 L632.71,183.50 L631.61,182.50 L630.75,181.50 L630.28,180.50 L629.85,179.50 L629.49,178.50 L629.22,177.50 L629.05,176.50 L628.95,175.50 L628.87,174.50 L628.79,173.50 L628.72,172.50 L628.66,171.50 L628.61,170.50 L628.56,169.50 L628.51,168.50 L628.46,167.50 L628.41,166.50 L628.36,165.50 L628.31,164.50 L628.25,163.50 L626.25,163.50 L626.19,164.50 L626.14,165.50 L626.09,166.50 L626.04,167.50 L625.99,168.50 L625.94,169.50 L625.89,170.50 L625.84,171.50 L625.78,172.50 L625.71,173.50 L625.63,174.50 L625.55,175.50 L625.45,176.50 L625.28,177.50 L625.01,178.50 L624.65,179.50 L624.22,180.50 L623.75,181.50 L622.89,182.50 L621.79,183.50 L621.25,184.50 L621.29,185.17 L621.37,185.83 L621.45,186.50 Z" fill="#52bcd9" stroke="#111" stroke-width="1.0" stroke-linejoin="round"/>
<line x1="627.25" y1="186.00" x2="627.25" y2="163.50" stroke="#000" stroke-width="0.9"/>
<rect x="626.10" y="174.50" width="2.30" height="11.50" fill="#000" stroke="none" stroke-width="1"/>
<circle cx="627.25" cy="184.60" r="3.0" fill="#fff"/>
<text x="440.30" y="202.80" font-size="9.9" fill="#000" stroke="#000" stroke-width="0.1" text-anchor="end" dominant-baseline="auto" transform="rotate(-45 440.30 202.80)">Cerebral cortex</text>
<text x="454.95" y="202.80" font-size="9.9" fill="#000" stroke="#000" stroke-width="0.1" text-anchor="end" dominant-baseline="auto" transform="rotate(-45 454.95 202.80)">Brainstem</text>
<text x="469.60" y="202.80" font-size="9.9" fill="#000" stroke="#000" stroke-width="0.1" text-anchor="end" dominant-baseline="auto" transform="rotate(-45 469.60 202.80)">Cerebellum</text>
<text x="484.25" y="202.80" font-size="9.9" fill="#000" stroke="#000" stroke-width="0.1" text-anchor="end" dominant-baseline="auto" transform="rotate(-45 484.25 202.80)">Left ventricle</text>
<text x="498.90" y="202.80" font-size="9.9" fill="#000" stroke="#000" stroke-width="0.1" text-anchor="end" dominant-baseline="auto" transform="rotate(-45 498.90 202.80)">Medulla</text>
<text x="513.55" y="202.80" font-size="9.9" fill="#000" stroke="#000" stroke-width="0.1" text-anchor="end" dominant-baseline="auto" transform="rotate(-45 513.55 202.80)">Right ventricle</text>
<text x="528.20" y="202.80" font-size="9.9" fill="#000" stroke="#000" stroke-width="0.1" text-anchor="end" dominant-baseline="auto" transform="rotate(-45 528.20 202.80)">Muscle</text>
<text x="542.85" y="202.80" font-size="9.9" fill="#000" stroke="#000" stroke-width="0.1" text-anchor="end" dominant-baseline="auto" transform="rotate(-45 542.85 202.80)">Lung</text>
<text x="557.50" y="202.80" font-size="9.9" fill="#000" stroke="#000" stroke-width="0.1" text-anchor="end" dominant-baseline="auto" transform="rotate(-45 557.50 202.80)">Kidney</text>
<text x="572.15" y="202.80" font-size="9.9" fill="#000" stroke="#000" stroke-width="0.1" text-anchor="end" dominant-baseline="auto" transform="rotate(-45 572.15 202.80)">Spleen</text>
<text x="586.80" y="202.80" font-size="9.9" fill="#000" stroke="#000" stroke-width="0.1" text-anchor="end" dominant-baseline="auto" transform="rotate(-45 586.80 202.80)">Liver</text>
<text x="601.45" y="202.80" font-size="9.9" fill="#000" stroke="#000" stroke-width="0.1" text-anchor="end" dominant-baseline="auto" transform="rotate(-45 601.45 202.80)">Intestine</text>
<text x="616.10" y="202.80" font-size="9.9" fill="#000" stroke="#000" stroke-width="0.1" text-anchor="end" dominant-baseline="auto" transform="rotate(-45 616.10 202.80)">Stomach</text>
<text x="630.75" y="202.80" font-size="9.9" fill="#000" stroke="#000" stroke-width="0.1" text-anchor="end" dominant-baseline="auto" transform="rotate(-45 630.75 202.80)">Testis</text>
<text transform="translate(382.40,88.00) rotate(-90)" font-size="13.2" text-anchor="middle" fill="#000">Log<tspan font-size="7.26" dy="3.70">10</tspan><tspan dy="-3.70">(RPKM + 1)</tspan></text>
<text x="353.30" y="6.80" font-size="13" fill="#000" stroke="#000" stroke-width="0.1" text-anchor="start" dominant-baseline="central">B</text>
<rect x="56.70" y="265.00" width="220.70" height="179.30" fill="none" stroke="#111" stroke-width="1.2"/>
<line x1="51.20" y1="437.90" x2="56.70" y2="437.90" stroke="#222" stroke-width="1.1"/>
<text x="48.90" y="437.40" font-size="13" fill="#000" stroke="#000" stroke-width="0.1" text-anchor="end" dominant-baseline="central">0.0</text>
<line x1="51.20" y1="396.20" x2="56.70" y2="396.20" stroke="#222" stroke-width="1.1"/>
<text x="48.90" y="395.70" font-size="13" fill="#000" stroke="#000" stroke-width="0.1" text-anchor="end" dominant-baseline="central">1.0</text>
<line x1="51.20" y1="354.50" x2="56.70" y2="354.50" stroke="#222" stroke-width="1.1"/>
<text x="48.90" y="354.00" font-size="13" fill="#000" stroke="#000" stroke-width="0.1" text-anchor="end" dominant-baseline="central">2.0</text>
<line x1="51.20" y1="312.80" x2="56.70" y2="312.80" stroke="#222" stroke-width="1.1"/>
<text x="48.90" y="312.30" font-size="13" fill="#000" stroke="#000" stroke-width="0.1" text-anchor="end" dominant-baseline="central">3.0</text>
<line x1="51.20" y1="271.10" x2="56.70" y2="271.10" stroke="#222" stroke-width="1.1"/>
<text x="48.90" y="270.60" font-size="13" fill="#000" stroke="#000" stroke-width="0.1" text-anchor="end" dominant-baseline="central">4.0</text>
<line x1="71.80" y1="444.30" x2="71.80" y2="449.80" stroke="#222" stroke-width="1.1"/>
<line x1="86.45" y1="444.30" x2="86.45" y2="449.80" stroke="#222" stroke-width="1.1"/>
<line x1="101.10" y1="444.30" x2="101.10" y2="449.80" stroke="#222" stroke-width="1.1"/>
<line x1="115.75" y1="444.30" x2="115.75" y2="449.80" stroke="#222" stroke-width="1.1"/>
<line x1="130.40" y1="444.30" x2="130.40" y2="449.80" stroke="#222" stroke-width="1.1"/>
<line x1="145.05" y1="444.30" x2="145.05" y2="449.80" stroke="#222" stroke-width="1.1"/>
<line x1="159.70" y1="444.30" x2="159.70" y2="449.80" stroke="#222" stroke-width="1.1"/>
<line x1="174.35" y1="444.30" x2="174.35" y2="449.80" stroke="#222" stroke-width="1.1"/>
<line x1="189.00" y1="444.30" x2="189.00" y2="449.80" stroke="#222" stroke-width="1.1"/>
<line x1="203.65" y1="444.30" x2="203.65" y2="449.80" stroke="#222" stroke-width="1.1"/>
<line x1="218.30" y1="444.30" x2="218.30" y2="449.80" stroke="#222" stroke-width="1.1"/>
<line x1="232.95" y1="444.30" x2="232.95" y2="449.80" stroke="#222" stroke-width="1.1"/>
<line x1="247.60" y1="444.30" x2="247.60" y2="449.80" stroke="#222" stroke-width="1.1"/>
<line x1="262.25" y1="444.30" x2="262.25" y2="449.80" stroke="#222" stroke-width="1.1"/>
<path d="M77.80,438.20 L77.88,437.53 L77.96,436.87 L78.00,436.20 L77.92,435.02 L77.71,433.84 L77.42,432.66 L77.10,431.48 L76.80,430.30 L76.56,429.27 L76.31,428.25 L76.05,427.22 L75.79,426.19 L75.52,425.16 L75.24,424.14 L74.97,423.11 L74.70,422.08 L74.43,421.05 L74.16,420.03 L73.90,419.00 L73.58,417.84 L73.22,416.68 L72.88,415.52 L72.63,414.36 L72.50,413.20 L72.47,412.10 L72.44,411.00 L72.42,409.90 L72.40,408.80 L72.39,407.70 L72.37,406.60 L72.35,405.50 L71.25,405.50 L71.23,406.60 L71.21,407.70 L71.20,408.80 L71.18,409.90 L71.16,411.00 L71.13,412.10 L71.10,413.20 L70.97,414.36 L70.72,415.52 L70.38,416.68 L70.02,417.84 L69.70,419.00 L69.44,420.03 L69.17,421.05 L68.90,422.08 L68.63,423.11 L68.36,424.14 L68.08,425.16 L67.81,426.19 L67.55,427.22 L67.29,428.25 L67.04,429.27 L66.80,430.30 L66.50,431.48 L66.18,432.66 L65.89,433.84 L65.68,435.02 L65.60,436.20 L65.64,436.87 L65.72,437.53 L65.80,438.20 Z" fill="#f6b9a1" stroke="#111" stroke-width="1.0" stroke-linejoin="round"/>
<line x1="71.80" y1="437.70" x2="71.80" y2="405.50" stroke="#000" stroke-width="0.9"/>
<rect x="70.65" y="421.20" width="2.30" height="16.50" fill="#000" stroke="none" stroke-width="1"/>
<circle cx="71.80" cy="436.70" r="3.0" fill="#fff"/>
<path d="M92.45,438.20 L92.53,437.53 L92.61,436.87 L92.65,436.20 L92.57,435.02 L92.37,433.84 L92.10,432.66 L91.81,431.48 L91.55,430.30 L91.35,429.27 L91.15,428.25 L90.94,427.22 L90.73,426.19 L90.52,425.16 L90.32,424.14 L90.11,423.11 L89.91,422.08 L89.72,421.05 L89.53,420.03 L89.35,419.00 L89.17,417.97 L89.00,416.95 L88.82,415.92 L88.64,414.89 L88.47,413.86 L88.30,412.84 L88.15,411.81 L88.00,410.78 L87.87,409.75 L87.75,408.73 L87.65,407.70 L87.56,406.64 L87.46,405.59 L87.37,404.53 L87.29,403.48 L87.21,402.42 L87.15,401.37 L87.10,400.31 L87.06,399.26 L87.05,398.20 L87.05,397.17 L87.04,396.15 L87.04,395.12 L87.04,394.09 L87.04,393.06 L87.04,392.04 L87.03,391.01 L87.03,389.98 L87.03,388.95 L87.03,387.93 L87.03,386.90 L87.02,385.87 L87.02,384.85 L87.02,383.82 L87.02,382.79 L87.02,381.76 L87.02,380.74 L87.02,379.71 L87.02,378.68 L87.02,377.65 L87.01,376.63 L87.01,375.60 L87.01,374.57 L87.01,373.55 L87.01,372.52 L87.01,371.49 L87.01,370.46 L87.01,369.44 L87.01,368.41 L87.00,367.38 L87.00,366.35 L87.00,365.33 L87.00,364.30 L85.90,364.30 L85.90,365.33 L85.90,366.35 L85.90,367.38 L85.89,368.41 L85.89,369.44 L85.89,370.46 L85.89,371.49 L85.89,372.52 L85.89,373.55 L85.89,374.57 L85.89,375.60 L85.89,376.63 L85.88,377.65 L85.88,378.68 L85.88,379.71 L85.88,380.74 L85.88,381.76 L85.88,382.79 L85.88,383.82 L85.88,384.85 L85.88,385.87 L85.87,386.90 L85.87,387.93 L85.87,388.95 L85.87,389.98 L85.87,391.01 L85.86,392.04 L85.86,393.06 L85.86,394.09 L85.86,395.12 L85.86,396.15 L85.85,397.17 L85.85,398.20 L85.84,399.26 L85.80,400.31 L85.75,401.37 L85.69,402.42 L85.61,403.48 L85.53,404.53 L85.44,405.59 L85.34,406.64 L85.25,407.70 L85.15,408.73 L85.03,409.75 L84.90,410.78 L84.75,411.81 L84.60,412.84 L84.43,413.86 L84.26,414.89 L84.08,415.92 L83.90,416.95 L83.73,417.97 L83.55,419.00 L83.37,420.03 L83.18,421.05 L82.99,422.08 L82.79,423.11 L82.58,424.14 L82.38,425.16 L82.17,426.19 L81.96,427.22 L81.75,428.25 L81.55,429.27 L81.35,430.30 L81.09,431.48 L80.80,432.66 L80.53,433.84 L80.33,435.02 L80.25,436.20 L80.29,436.87 L80.37,437.53 L80.45,438.20 Z" fill="#e6201d" stroke="#111" stroke-width="1.0" stroke-linejoin="round"/>
<line x1="86.45" y1="437.70" x2="86.45" y2="364.30" stroke="#000" stroke-width="0.9"/>
<rect x="85.30" y="424.20" width="2.30" height="13.50" fill="#000" stroke="none" stroke-width="1"/>
<circle cx="86.45" cy="436.70" r="3.0" fill="#fff"/>
<path d="M107.10,438.20 L107.18,437.53 L107.26,436.87 L107.30,436.20 L107.24,435.02 L107.07,433.84 L106.85,432.66 L106.61,431.48 L106.40,430.30 L106.23,429.27 L106.06,428.25 L105.88,427.22 L105.70,426.19 L105.52,425.16 L105.34,424.14 L105.17,423.11 L104.99,422.08 L104.82,421.05 L104.66,420.03 L104.50,419.00 L104.34,417.97 L104.19,416.95 L104.02,415.92 L103.87,414.89 L103.71,413.86 L103.56,412.84 L103.42,411.81 L103.29,410.78 L103.18,409.75 L103.08,408.73 L103.00,407.70 L102.93,406.67 L102.87,405.65 L102.81,404.62 L102.75,403.59 L102.70,402.56 L102.65,401.54 L102.61,400.51 L102.57,399.48 L102.54,398.45 L102.52,397.43 L102.50,396.40 L102.49,395.38 L102.47,394.35 L102.46,393.33 L102.45,392.31 L102.44,391.29 L102.43,390.26 L102.42,389.24 L102.41,388.22 L102.40,387.20 L102.39,386.17 L102.38,385.15 L102.38,384.13 L102.37,383.10 L102.36,382.08 L102.35,381.06 L102.35,380.04 L102.34,379.01 L102.33,377.99 L102.33,376.97 L102.32,375.95 L102.31,374.92 L102.30,373.90 L99.90,373.90 L99.89,374.92 L99.88,375.95 L99.87,376.97 L99.87,377.99 L99.86,379.01 L99.85,380.04 L99.85,381.06 L99.84,382.08 L99.83,383.10 L99.82,384.13 L99.82,385.15 L99.81,386.17 L99.80,387.20 L99.79,388.22 L99.78,389.24 L99.77,390.26 L99.76,391.29 L99.75,392.31 L99.74,393.33 L99.73,394.35 L99.71,395.38 L99.70,396.40 L99.68,397.43 L99.66,398.45 L99.63,399.48 L99.59,400.51 L99.55,401.54 L99.50,402.56 L99.45,403.59 L99.39,404.62 L99.33,405.65 L99.27,406.67 L99.20,407.70 L99.12,408.73 L99.02,409.75 L98.91,410.78 L98.78,411.81 L98.64,412.84 L98.49,413.86 L98.33,414.89 L98.18,415.92 L98.01,416.95 L97.86,417.97 L97.70,419.00 L97.54,420.03 L97.38,421.05 L97.21,422.08 L97.03,423.11 L96.86,424.14 L96.68,425.16 L96.50,426.19 L96.32,427.22 L96.14,428.25 L95.97,429.27 L95.80,430.30 L95.59,431.48 L95.35,432.66 L95.13,433.84 L94.96,435.02 L94.90,436.20 L94.94,436.87 L95.02,437.53 L95.10,438.20 Z" fill="#f2cf00" stroke="#111" stroke-width="1.0" stroke-linejoin="round"/>
<line x1="101.10" y1="437.70" x2="101.10" y2="373.90" stroke="#000" stroke-width="0.9"/>
<rect x="99.95" y="426.20" width="2.30" height="11.50" fill="#000" stroke="none" stroke-width="1"/>
<circle cx="101.10" cy="436.70" r="3.0" fill="#fff"/>
<path d="M121.75,438.20 L121.83,437.53 L121.91,436.87 L121.95,436.20 L121.91,435.02 L121.81,433.84 L121.66,432.66 L121.50,431.48 L121.35,430.30 L121.22,429.27 L121.08,428.25 L120.94,427.22 L120.79,426.19 L120.64,425.16 L120.48,424.14 L120.32,423.11 L120.15,422.08 L119.98,421.05 L119.82,420.03 L119.65,419.00 L119.48,417.97 L119.29,416.95 L119.10,415.92 L118.90,414.89 L118.71,413.86 L118.51,412.84 L118.32,411.81 L118.13,410.78 L117.96,409.75 L117.80,408.73 L117.65,407.70 L117.51,406.67 L117.37,405.65 L117.22,404.62 L117.08,403.59 L116.94,402.56 L116.81,401.54 L116.70,400.51 L116.60,399.48 L116.53,398.45 L116.47,397.43 L116.45,396.40 L116.44,395.39 L116.43,394.37 L116.42,393.36 L116.42,392.35 L116.41,391.33 L116.40,390.32 L116.40,389.31 L116.39,388.29 L116.38,387.28 L116.38,386.27 L116.37,385.25 L116.37,384.24 L116.37,383.23 L116.36,382.21 L116.36,381.20 L116.35,380.19 L116.35,379.17 L116.35,378.16 L116.34,377.15 L116.34,376.13 L116.34,375.12 L116.33,374.11 L116.33,373.09 L116.33,372.08 L116.32,371.07 L116.32,370.05 L116.31,369.04 L116.31,368.03 L116.30,367.01 L116.30,366.00 L115.20,366.00 L115.20,367.01 L115.19,368.03 L115.19,369.04 L115.18,370.05 L115.18,371.07 L115.17,372.08 L115.17,373.09 L115.17,374.11 L115.16,375.12 L115.16,376.13 L115.16,377.15 L115.15,378.16 L115.15,379.17 L115.15,380.19 L115.14,381.20 L115.14,382.21 L115.13,383.23 L115.13,384.24 L115.13,385.25 L115.12,386.27 L115.12,387.28 L115.11,388.29 L115.10,389.31 L115.10,390.32 L115.09,391.33 L115.08,392.35 L115.08,393.36 L115.07,394.37 L115.06,395.39 L115.05,396.40 L115.03,397.43 L114.97,398.45 L114.90,399.48 L114.80,400.51 L114.69,401.54 L114.56,402.56 L114.42,403.59 L114.28,404.62 L114.13,405.65 L113.99,406.67 L113.85,407.70 L113.70,408.73 L113.54,409.75 L113.37,410.78 L113.18,411.81 L112.99,412.84 L112.79,413.86 L112.60,414.89 L112.40,415.92 L112.21,416.95 L112.02,417.97 L111.85,419.00 L111.68,420.03 L111.52,421.05 L111.35,422.08 L111.18,423.11 L111.02,424.14 L110.86,425.16 L110.71,426.19 L110.56,427.22 L110.42,428.25 L110.28,429.27 L110.15,430.30 L110.00,431.48 L109.84,432.66 L109.69,433.84 L109.59,435.02 L109.55,436.20 L109.59,436.87 L109.67,437.53 L109.75,438.20 Z" fill="#3b78c2" stroke="#111" stroke-width="1.0" stroke-linejoin="round"/>
<line x1="115.75" y1="437.70" x2="115.75" y2="366.00" stroke="#000" stroke-width="0.9"/>
<rect x="114.60" y="425.20" width="2.30" height="12.50" fill="#000" stroke="none" stroke-width="1"/>
<circle cx="115.75" cy="436.70" r="3.0" fill="#fff"/>
<path d="M136.40,438.20 L136.48,437.53 L136.56,436.87 L136.60,436.20 L136.55,435.02 L136.44,433.84 L136.29,432.66 L136.13,431.48 L136.00,430.30 L135.91,429.27 L135.83,428.25 L135.76,427.22 L135.68,426.19 L135.61,425.16 L135.54,424.14 L135.47,423.11 L135.39,422.08 L135.30,421.05 L135.21,420.03 L135.10,419.00 L134.98,417.97 L134.83,416.95 L134.67,415.92 L134.50,414.89 L134.32,413.86 L134.13,412.84 L133.93,411.81 L133.74,410.78 L133.55,409.75 L133.37,408.73 L133.20,407.70 L133.03,406.67 L132.86,405.65 L132.68,404.62 L132.50,403.59 L132.32,402.56 L132.15,401.54 L131.98,400.51 L131.83,399.48 L131.70,398.45 L131.59,397.43 L131.50,396.40 L131.43,395.38 L131.35,394.36 L131.28,393.34 L131.22,392.32 L131.16,391.30 L131.11,390.28 L131.06,389.26 L131.03,388.24 L131.01,387.22 L131.00,386.20 L131.00,385.19 L131.00,384.19 L130.99,383.18 L130.99,382.18 L130.99,381.17 L130.99,380.17 L130.98,379.16 L130.98,378.16 L130.98,377.15 L130.98,376.15 L130.98,375.14 L130.98,374.14 L130.98,373.13 L130.97,372.12 L130.97,371.12 L130.97,370.11 L130.97,369.11 L130.97,368.10 L130.97,367.10 L130.97,366.09 L130.97,365.09 L130.97,364.08 L130.96,363.08 L130.96,362.07 L130.96,361.06 L130.96,360.06 L130.96,359.05 L130.96,358.05 L130.96,357.04 L130.96,356.04 L130.96,355.03 L130.96,354.03 L130.95,353.02 L130.95,352.02 L130.95,351.01 L130.95,350.01 L130.95,349.00 L129.85,349.00 L129.85,350.01 L129.85,351.01 L129.85,352.02 L129.85,353.02 L129.84,354.03 L129.84,355.03 L129.84,356.04 L129.84,357.04 L129.84,358.05 L129.84,359.05 L129.84,360.06 L129.84,361.06 L129.84,362.07 L129.84,363.08 L129.83,364.08 L129.83,365.09 L129.83,366.09 L129.83,367.10 L129.83,368.10 L129.83,369.11 L129.83,370.11 L129.83,371.12 L129.83,372.12 L129.82,373.13 L129.82,374.14 L129.82,375.14 L129.82,376.15 L129.82,377.15 L129.82,378.16 L129.82,379.16 L129.81,380.17 L129.81,381.17 L129.81,382.18 L129.81,383.18 L129.80,384.19 L129.80,385.19 L129.80,386.20 L129.79,387.22 L129.77,388.24 L129.74,389.26 L129.69,390.28 L129.64,391.30 L129.58,392.32 L129.52,393.34 L129.45,394.36 L129.37,395.38 L129.30,396.40 L129.21,397.43 L129.10,398.45 L128.97,399.48 L128.82,400.51 L128.65,401.54 L128.48,402.56 L128.30,403.59 L128.12,404.62 L127.94,405.65 L127.77,406.67 L127.60,407.70 L127.43,408.73 L127.25,409.75 L127.06,410.78 L126.87,411.81 L126.67,412.84 L126.48,413.86 L126.30,414.89 L126.13,415.92 L125.97,416.95 L125.82,417.97 L125.70,419.00 L125.59,420.03 L125.50,421.05 L125.41,422.08 L125.33,423.11 L125.26,424.14 L125.19,425.16 L125.12,426.19 L125.04,427.22 L124.97,428.25 L124.89,429.27 L124.80,430.30 L124.67,431.48 L124.51,432.66 L124.36,433.84 L124.25,435.02 L124.20,436.20 L124.24,436.87 L124.32,437.53 L124.40,438.20 Z" fill="#f0a03c" stroke="#111" stroke-width="1.0" stroke-linejoin="round"/>
<line x1="130.40" y1="437.70" x2="130.40" y2="349.00" stroke="#000" stroke-width="0.9"/>
<rect x="129.25" y="422.20" width="2.30" height="15.50" fill="#000" stroke="none" stroke-width="1"/>
<circle cx="130.40" cy="436.70" r="3.0" fill="#fff"/>
<path d="M150.75,438.20 L150.87,437.53 L150.99,436.87 L151.05,436.20 L151.01,435.20 L150.90,434.20 L150.76,433.20 L150.60,432.20 L150.45,431.20 L150.31,430.20 L150.17,429.20 L150.02,428.20 L149.86,427.20 L149.71,426.20 L149.55,425.20 L149.39,424.20 L149.22,423.20 L149.06,422.20 L148.90,421.20 L148.73,420.20 L148.57,419.20 L148.41,418.20 L148.25,417.20 L148.09,416.20 L147.91,415.20 L147.73,414.20 L147.55,413.20 L147.36,412.20 L147.17,411.20 L146.99,410.20 L146.81,409.20 L146.64,408.20 L146.49,407.20 L146.35,406.20 L146.23,405.20 L146.13,404.20 L146.05,403.20 L145.99,402.20 L145.93,401.20 L145.87,400.20 L145.82,399.20 L145.77,398.20 L145.73,397.20 L145.70,396.20 L145.68,395.20 L145.66,394.20 L145.65,393.20 L145.65,392.18 L145.64,391.16 L145.64,390.15 L145.64,389.13 L145.64,388.11 L145.63,387.09 L145.63,386.07 L145.63,385.06 L145.63,384.04 L145.63,383.02 L145.62,382.00 L145.62,380.99 L145.62,379.97 L145.62,378.95 L145.62,377.93 L145.62,376.91 L145.62,375.90 L145.61,374.88 L145.61,373.86 L145.61,372.84 L145.61,371.82 L145.61,370.81 L145.61,369.79 L145.61,368.77 L145.60,367.75 L145.60,366.74 L145.60,365.72 L145.60,364.70 L144.50,364.70 L144.50,365.72 L144.50,366.74 L144.50,367.75 L144.49,368.77 L144.49,369.79 L144.49,370.81 L144.49,371.82 L144.49,372.84 L144.49,373.86 L144.49,374.88 L144.48,375.90 L144.48,376.91 L144.48,377.93 L144.48,378.95 L144.48,379.97 L144.48,380.99 L144.48,382.00 L144.47,383.02 L144.47,384.04 L144.47,385.06 L144.47,386.07 L144.47,387.09 L144.46,388.11 L144.46,389.13 L144.46,390.15 L144.46,391.16 L144.45,392.18 L144.45,393.20 L144.44,394.20 L144.42,395.20 L144.40,396.20 L144.37,397.20 L144.33,398.20 L144.28,399.20 L144.23,400.20 L144.17,401.20 L144.11,402.20 L144.05,403.20 L143.97,404.20 L143.87,405.20 L143.75,406.20 L143.61,407.20 L143.46,408.20 L143.29,409.20 L143.11,410.20 L142.93,411.20 L142.74,412.20 L142.55,413.20 L142.37,414.20 L142.19,415.20 L142.01,416.20 L141.85,417.20 L141.69,418.20 L141.53,419.20 L141.37,420.20 L141.20,421.20 L141.04,422.20 L140.88,423.20 L140.71,424.20 L140.55,425.20 L140.39,426.20 L140.24,427.20 L140.08,428.20 L139.93,429.20 L139.79,430.20 L139.65,431.20 L139.50,432.20 L139.34,433.20 L139.20,434.20 L139.09,435.20 L139.05,436.20 L139.11,436.87 L139.23,437.53 L139.35,438.20 Z" fill="#86c9ef" stroke="#111" stroke-width="1.0" stroke-linejoin="round"/>
<line x1="145.05" y1="437.70" x2="145.05" y2="364.70" stroke="#000" stroke-width="0.9"/>
<rect x="143.90" y="424.20" width="2.30" height="13.50" fill="#000" stroke="none" stroke-width="1"/>
<circle cx="145.05" cy="434.30" r="3.0" fill="#fff"/>
<path d="M165.70,438.20 L165.78,437.53 L165.86,436.87 L165.90,436.20 L165.82,435.20 L165.61,434.20 L165.32,433.20 L165.00,432.20 L164.70,431.20 L164.41,430.20 L164.07,429.20 L163.72,428.20 L163.37,427.20 L163.02,426.20 L162.70,425.20 L162.42,424.20 L162.20,423.20 L162.02,422.20 L161.84,421.20 L161.68,420.20 L161.52,419.20 L161.38,418.20 L161.26,417.20 L161.15,416.20 L161.07,415.20 L161.00,414.20 L160.95,413.12 L160.90,412.05 L160.86,410.97 L160.83,409.90 L160.80,408.82 L160.77,407.75 L160.74,406.68 L160.70,405.60 L158.70,405.60 L158.66,406.68 L158.63,407.75 L158.60,408.82 L158.57,409.90 L158.54,410.97 L158.50,412.05 L158.45,413.12 L158.40,414.20 L158.33,415.20 L158.25,416.20 L158.14,417.20 L158.02,418.20 L157.88,419.20 L157.72,420.20 L157.56,421.20 L157.38,422.20 L157.20,423.20 L156.98,424.20 L156.70,425.20 L156.38,426.20 L156.03,427.20 L155.68,428.20 L155.33,429.20 L154.99,430.20 L154.70,431.20 L154.40,432.20 L154.08,433.20 L153.79,434.20 L153.58,435.20 L153.50,436.20 L153.54,436.87 L153.62,437.53 L153.70,438.20 Z" fill="#f1bfcf" stroke="#111" stroke-width="1.0" stroke-linejoin="round"/>
<line x1="159.70" y1="437.70" x2="159.70" y2="405.60" stroke="#000" stroke-width="0.9"/>
<rect x="158.55" y="424.20" width="2.30" height="13.50" fill="#000" stroke="none" stroke-width="1"/>
<circle cx="159.70" cy="435.00" r="3.0" fill="#fff"/>
<path d="M179.95,438.20 L180.16,437.20 L180.39,436.20 L180.57,435.20 L180.65,434.20 L180.60,433.20 L180.46,432.20 L180.25,431.20 L179.99,430.20 L179.71,429.20 L179.42,428.20 L179.15,427.20 L178.87,426.20 L178.55,425.20 L178.20,424.20 L177.86,423.20 L177.52,422.20 L177.21,421.20 L176.95,420.20 L176.72,419.20 L176.50,418.20 L176.29,417.20 L176.10,416.20 L175.96,415.20 L175.85,414.20 L175.77,413.06 L175.71,411.92 L175.65,410.78 L175.60,409.64 L175.55,408.50 L173.15,408.50 L173.10,409.64 L173.05,410.78 L172.99,411.92 L172.93,413.06 L172.85,414.20 L172.74,415.20 L172.60,416.20 L172.41,417.20 L172.20,418.20 L171.98,419.20 L171.75,420.20 L171.49,421.20 L171.18,422.20 L170.84,423.20 L170.50,424.20 L170.15,425.20 L169.83,426.20 L169.55,427.20 L169.28,428.20 L168.99,429.20 L168.71,430.20 L168.45,431.20 L168.24,432.20 L168.10,433.20 L168.05,434.20 L168.13,435.20 L168.31,436.20 L168.54,437.20 L168.75,438.20 Z" fill="#6f8ed0" stroke="#111" stroke-width="1.0" stroke-linejoin="round"/>
<line x1="174.35" y1="437.70" x2="174.35" y2="408.50" stroke="#000" stroke-width="0.9"/>
<rect x="173.20" y="426.20" width="2.30" height="11.50" fill="#000" stroke="none" stroke-width="1"/>
<circle cx="174.35" cy="430.50" r="3.0" fill="#fff"/>
<path d="M191.30,409.90 L191.40,408.90 L191.50,407.90 L191.60,406.90 L191.70,405.90 L191.80,404.90 L191.91,403.90 L192.01,402.90 L192.12,401.90 L192.22,400.90 L192.33,399.90 L192.43,398.90 L192.53,397.90 L192.63,396.90 L192.72,395.90 L192.81,394.90 L192.90,393.90 L192.98,392.90 L193.06,391.90 L193.13,390.90 L193.20,389.90 L193.26,388.90 L193.33,387.90 L193.40,386.90 L193.46,385.90 L193.53,384.90 L193.60,383.90 L193.67,382.90 L193.73,381.90 L193.80,380.90 L193.87,379.90 L193.93,378.90 L194.00,377.90 L194.06,376.90 L194.13,375.90 L194.19,374.90 L194.25,373.90 L194.31,372.90 L194.37,371.90 L194.43,370.90 L194.48,369.90 L194.53,368.90 L194.59,367.90 L194.63,366.90 L194.68,365.90 L194.72,364.90 L194.77,363.90 L194.80,362.90 L194.84,361.90 L194.87,360.90 L194.90,359.90 L194.93,358.90 L194.95,357.90 L194.97,356.90 L194.98,355.90 L194.99,354.90 L195.00,353.90 L195.00,352.90 L195.00,351.90 L194.98,350.90 L194.96,349.90 L194.93,348.90 L194.89,347.90 L194.85,346.90 L194.80,345.90 L194.74,344.90 L194.68,343.90 L194.61,342.90 L194.54,341.90 L194.46,340.90 L194.38,339.90 L194.30,338.90 L194.21,337.90 L194.12,336.90 L194.03,335.90 L193.94,334.90 L193.84,333.90 L193.75,332.90 L193.65,331.90 L193.55,330.90 L193.46,329.90 L193.36,328.90 L193.27,327.90 L193.18,326.90 L193.09,325.90 L193.00,324.90 L192.91,323.90 L192.81,322.90 L192.70,321.90 L192.58,320.90 L192.46,319.90 L192.34,318.90 L192.22,317.90 L192.09,316.90 L191.97,315.90 L191.86,314.90 L191.75,313.90 L191.64,312.90 L191.55,311.90 L191.47,310.90 L191.40,309.90 L191.34,308.84 L191.28,307.78 L191.23,306.72 L191.18,305.65 L191.13,304.59 L191.09,303.53 L191.05,302.47 L191.01,301.41 L190.97,300.35 L190.93,299.28 L190.89,298.22 L190.84,297.16 L190.80,296.10 L187.20,296.10 L187.16,297.16 L187.11,298.22 L187.07,299.28 L187.03,300.35 L186.99,301.41 L186.95,302.47 L186.91,303.53 L186.87,304.59 L186.82,305.65 L186.77,306.72 L186.72,307.78 L186.66,308.84 L186.60,309.90 L186.53,310.90 L186.45,311.90 L186.36,312.90 L186.25,313.90 L186.14,314.90 L186.03,315.90 L185.91,316.90 L185.78,317.90 L185.66,318.90 L185.54,319.90 L185.42,320.90 L185.30,321.90 L185.19,322.90 L185.09,323.90 L185.00,324.90 L184.91,325.90 L184.82,326.90 L184.73,327.90 L184.64,328.90 L184.54,329.90 L184.45,330.90 L184.35,331.90 L184.25,332.90 L184.16,333.90 L184.06,334.90 L183.97,335.90 L183.88,336.90 L183.79,337.90 L183.70,338.90 L183.62,339.90 L183.54,340.90 L183.46,341.90 L183.39,342.90 L183.32,343.90 L183.26,344.90 L183.20,345.90 L183.15,346.90 L183.11,347.90 L183.07,348.90 L183.04,349.90 L183.02,350.90 L183.00,351.90 L183.00,352.90 L183.00,353.90 L183.01,354.90 L183.02,355.90 L183.03,356.90 L183.05,357.90 L183.07,358.90 L183.10,359.90 L183.13,360.90 L183.16,361.90 L183.20,362.90 L183.23,363.90 L183.28,364.90 L183.32,365.90 L183.37,366.90 L183.41,367.90 L183.47,368.90 L183.52,369.90 L183.57,370.90 L183.63,371.90 L183.69,372.90 L183.75,373.90 L183.81,374.90 L183.87,375.90 L183.94,376.90 L184.00,377.90 L184.07,378.90 L184.13,379.90 L184.20,380.90 L184.27,381.90 L184.33,382.90 L184.40,383.90 L184.47,384.90 L184.54,385.90 L184.60,386.90 L184.67,387.90 L184.74,388.90 L184.80,389.90 L184.87,390.90 L184.94,391.90 L185.02,392.90 L185.10,393.90 L185.19,394.90 L185.28,395.90 L185.37,396.90 L185.47,397.90 L185.57,398.90 L185.67,399.90 L185.78,400.90 L185.88,401.90 L185.99,402.90 L186.09,403.90 L186.20,404.90 L186.30,405.90 L186.40,406.90 L186.50,407.90 L186.60,408.90 L186.70,409.90 Z" fill="#c25eae" stroke="#111" stroke-width="1.0" stroke-linejoin="round"/>
<line x1="189.00" y1="406.90" x2="189.00" y2="299.90" stroke="#000" stroke-width="0.9"/>
<rect x="187.85" y="351.90" width="2.30" height="19.00" fill="#000" stroke="none" stroke-width="1"/>
<circle cx="189.00" cy="353.90" r="3.0" fill="#fff"/>
<path d="M209.45,438.20 L209.57,437.20 L209.69,436.20 L209.75,435.20 L209.66,434.20 L209.43,433.20 L209.12,432.20 L208.77,431.20 L208.45,430.20 L208.13,429.20 L207.76,428.20 L207.39,427.20 L207.02,426.20 L206.70,425.20 L206.45,424.20 L206.24,423.20 L206.05,422.20 L205.87,421.20 L205.72,420.20 L205.61,419.20 L205.55,418.20 L205.51,417.02 L205.49,415.85 L205.47,414.68 L205.45,413.50 L201.85,413.50 L201.83,414.68 L201.81,415.85 L201.79,417.02 L201.75,418.20 L201.69,419.20 L201.58,420.20 L201.43,421.20 L201.25,422.20 L201.06,423.20 L200.85,424.20 L200.60,425.20 L200.28,426.20 L199.91,427.20 L199.54,428.20 L199.17,429.20 L198.85,430.20 L198.53,431.20 L198.18,432.20 L197.87,433.20 L197.64,434.20 L197.55,435.20 L197.61,436.20 L197.73,437.20 L197.85,438.20 Z" fill="#58c0b6" stroke="#111" stroke-width="1.0" stroke-linejoin="round"/>
<line x1="203.65" y1="437.70" x2="203.65" y2="413.50" stroke="#000" stroke-width="0.9"/>
<rect x="202.50" y="426.20" width="2.30" height="11.50" fill="#000" stroke="none" stroke-width="1"/>
<circle cx="203.65" cy="435.00" r="3.0" fill="#fff"/>
<path d="M224.30,438.20 L224.42,437.20 L224.54,436.20 L224.60,435.20 L224.58,434.20 L224.53,433.20 L224.46,432.20 L224.36,431.20 L224.24,430.20 L224.11,429.20 L223.97,428.20 L223.83,427.20 L223.68,426.20 L223.54,425.20 L223.41,424.20 L223.30,423.20 L223.19,422.20 L223.09,421.20 L222.98,420.20 L222.88,419.20 L222.78,418.20 L222.67,417.20 L222.57,416.20 L222.47,415.20 L222.36,414.20 L222.26,413.20 L222.16,412.20 L222.05,411.20 L221.95,410.20 L221.85,409.20 L221.74,408.20 L221.64,407.20 L221.53,406.20 L221.43,405.20 L221.32,404.20 L221.22,403.20 L221.11,402.20 L221.00,401.20 L220.89,400.20 L220.77,399.20 L220.64,398.20 L220.51,397.20 L220.38,396.20 L220.25,395.20 L220.12,394.20 L219.99,393.20 L219.87,392.20 L219.75,391.20 L219.64,390.20 L219.54,389.20 L219.45,388.20 L219.37,387.20 L219.30,386.20 L219.24,385.20 L219.18,384.20 L219.13,383.20 L219.08,382.20 L219.03,381.20 L218.99,380.20 L218.95,379.20 L218.93,378.20 L218.91,377.20 L218.90,376.20 L218.90,375.20 L218.90,374.20 L218.89,373.20 L218.89,372.20 L218.89,371.20 L218.89,370.20 L218.89,369.20 L218.89,368.20 L218.89,367.20 L218.88,366.20 L218.88,365.20 L218.88,364.20 L218.88,363.20 L218.88,362.20 L218.88,361.20 L218.88,360.20 L218.88,359.20 L218.87,358.20 L218.87,357.20 L218.87,356.20 L218.87,355.20 L218.87,354.20 L218.87,353.20 L218.87,352.20 L218.87,351.20 L218.87,350.20 L218.87,349.20 L218.87,348.20 L218.87,347.20 L218.87,346.20 L218.86,345.20 L218.86,344.20 L218.86,343.20 L218.86,342.20 L218.86,341.20 L218.86,340.20 L218.86,339.20 L218.86,338.20 L218.86,337.20 L218.86,336.20 L218.86,335.20 L218.86,334.20 L218.86,333.20 L218.86,332.20 L218.85,331.20 L218.85,330.20 L218.85,329.20 L218.85,328.20 L218.85,327.20 L218.85,326.20 L217.75,326.20 L217.75,327.20 L217.75,328.20 L217.75,329.20 L217.75,330.20 L217.75,331.20 L217.74,332.20 L217.74,333.20 L217.74,334.20 L217.74,335.20 L217.74,336.20 L217.74,337.20 L217.74,338.20 L217.74,339.20 L217.74,340.20 L217.74,341.20 L217.74,342.20 L217.74,343.20 L217.74,344.20 L217.74,345.20 L217.73,346.20 L217.73,347.20 L217.73,348.20 L217.73,349.20 L217.73,350.20 L217.73,351.20 L217.73,352.20 L217.73,353.20 L217.73,354.20 L217.73,355.20 L217.73,356.20 L217.73,357.20 L217.73,358.20 L217.72,359.20 L217.72,360.20 L217.72,361.20 L217.72,362.20 L217.72,363.20 L217.72,364.20 L217.72,365.20 L217.72,366.20 L217.71,367.20 L217.71,368.20 L217.71,369.20 L217.71,370.20 L217.71,371.20 L217.71,372.20 L217.71,373.20 L217.70,374.20 L217.70,375.20 L217.70,376.20 L217.69,377.20 L217.67,378.20 L217.65,379.20 L217.61,380.20 L217.57,381.20 L217.52,382.20 L217.47,383.20 L217.42,384.20 L217.36,385.20 L217.30,386.20 L217.23,387.20 L217.15,388.20 L217.06,389.20 L216.96,390.20 L216.85,391.20 L216.73,392.20 L216.61,393.20 L216.48,394.20 L216.35,395.20 L216.22,396.20 L216.09,397.20 L215.96,398.20 L215.83,399.20 L215.71,400.20 L215.60,401.20 L215.49,402.20 L215.38,403.20 L215.28,404.20 L215.17,405.20 L215.07,406.20 L214.96,407.20 L214.86,408.20 L214.75,409.20 L214.65,410.20 L214.55,411.20 L214.44,412.20 L214.34,413.20 L214.24,414.20 L214.13,415.20 L214.03,416.20 L213.93,417.20 L213.82,418.20 L213.72,419.20 L213.62,420.20 L213.51,421.20 L213.41,422.20 L213.30,423.20 L213.19,424.20 L213.06,425.20 L212.92,426.20 L212.77,427.20 L212.63,428.20 L212.49,429.20 L212.36,430.20 L212.24,431.20 L212.14,432.20 L212.07,433.20 L212.02,434.20 L212.00,435.20 L212.06,436.20 L212.18,437.20 L212.30,438.20 Z" fill="#985820" stroke="#111" stroke-width="1.0" stroke-linejoin="round"/>
<line x1="218.30" y1="437.70" x2="218.30" y2="326.20" stroke="#000" stroke-width="0.9"/>
<rect x="217.15" y="416.20" width="2.30" height="21.50" fill="#000" stroke="none" stroke-width="1"/>
<circle cx="218.30" cy="436.70" r="3.0" fill="#fff"/>
<path d="M238.75,438.20 L238.83,437.20 L238.91,436.20 L238.95,435.20 L238.93,434.20 L238.88,433.20 L238.80,432.20 L238.69,431.20 L238.56,430.20 L238.42,429.20 L238.26,428.20 L238.09,427.20 L237.93,426.20 L237.76,425.20 L237.60,424.20 L237.45,423.20 L237.30,422.20 L237.14,421.20 L236.97,420.20 L236.79,419.20 L236.61,418.20 L236.43,417.20 L236.24,416.20 L236.06,415.20 L235.88,414.20 L235.71,413.20 L235.55,412.20 L235.39,411.20 L235.25,410.20 L235.11,409.20 L234.97,408.20 L234.82,407.20 L234.69,406.20 L234.56,405.20 L234.46,404.20 L234.39,403.20 L234.35,402.20 L234.33,401.10 L234.31,400.00 L234.30,398.90 L234.29,397.80 L234.28,396.70 L234.27,395.60 L234.26,394.50 L234.25,393.40 L231.65,393.40 L231.64,394.50 L231.63,395.60 L231.62,396.70 L231.61,397.80 L231.60,398.90 L231.59,400.00 L231.57,401.10 L231.55,402.20 L231.51,403.20 L231.44,404.20 L231.34,405.20 L231.21,406.20 L231.08,407.20 L230.93,408.20 L230.79,409.20 L230.65,410.20 L230.51,411.20 L230.35,412.20 L230.19,413.20 L230.02,414.20 L229.84,415.20 L229.66,416.20 L229.47,417.20 L229.29,418.20 L229.11,419.20 L228.93,420.20 L228.76,421.20 L228.60,422.20 L228.45,423.20 L228.30,424.20 L228.14,425.20 L227.97,426.20 L227.81,427.20 L227.64,428.20 L227.48,429.20 L227.34,430.20 L227.21,431.20 L227.10,432.20 L227.02,433.20 L226.97,434.20 L226.95,435.20 L226.99,436.20 L227.07,437.20 L227.15,438.20 Z" fill="#d9b987" stroke="#111" stroke-width="1.0" stroke-linejoin="round"/>
<line x1="232.95" y1="437.70" x2="232.95" y2="393.40" stroke="#000" stroke-width="0.9"/>
<rect x="231.80" y="418.20" width="2.30" height="19.50" fill="#000" stroke="none" stroke-width="1"/>
<circle cx="232.95" cy="432.00" r="3.0" fill="#fff"/>
<path d="M253.60,438.20 L253.72,437.20 L253.84,436.20 L253.90,435.20 L253.86,434.20 L253.75,433.20 L253.59,432.20 L253.39,431.20 L253.17,430.20 L252.94,429.20 L252.71,428.20 L252.50,427.20 L252.30,426.20 L252.08,425.20 L251.86,424.20 L251.63,423.20 L251.39,422.20 L251.16,421.20 L250.93,420.20 L250.70,419.20 L250.49,418.20 L250.29,417.20 L250.10,416.20 L249.92,415.20 L249.75,414.20 L249.57,413.20 L249.40,412.20 L249.24,411.20 L249.09,410.20 L248.95,409.20 L248.82,408.20 L248.70,407.20 L248.60,406.20 L248.51,405.20 L248.42,404.20 L248.34,403.20 L248.27,402.20 L248.22,401.20 L248.20,400.20 L248.19,399.14 L248.18,398.08 L248.18,397.02 L248.17,395.96 L248.17,394.90 L248.17,393.84 L248.16,392.78 L248.16,391.72 L248.15,390.66 L248.15,389.60 L247.05,389.60 L247.05,390.66 L247.04,391.72 L247.04,392.78 L247.03,393.84 L247.03,394.90 L247.03,395.96 L247.02,397.02 L247.02,398.08 L247.01,399.14 L247.00,400.20 L246.98,401.20 L246.93,402.20 L246.86,403.20 L246.78,404.20 L246.69,405.20 L246.60,406.20 L246.50,407.20 L246.38,408.20 L246.25,409.20 L246.11,410.20 L245.96,411.20 L245.80,412.20 L245.63,413.20 L245.45,414.20 L245.28,415.20 L245.10,416.20 L244.91,417.20 L244.71,418.20 L244.50,419.20 L244.27,420.20 L244.04,421.20 L243.81,422.20 L243.57,423.20 L243.34,424.20 L243.12,425.20 L242.90,426.20 L242.70,427.20 L242.49,428.20 L242.26,429.20 L242.03,430.20 L241.81,431.20 L241.61,432.20 L241.45,433.20 L241.34,434.20 L241.30,435.20 L241.36,436.20 L241.48,437.20 L241.60,438.20 Z" fill="#94c43f" stroke="#111" stroke-width="1.0" stroke-linejoin="round"/>
<line x1="247.60" y1="437.70" x2="247.60" y2="389.60" stroke="#000" stroke-width="0.9"/>
<rect x="246.45" y="424.20" width="2.30" height="13.50" fill="#000" stroke="none" stroke-width="1"/>
<circle cx="247.60" cy="436.20" r="3.0" fill="#fff"/>
<path d="M268.55,438.20 L268.13,437.80 L267.70,437.40 L267.25,437.00 L266.18,436.23 L265.05,435.47 L264.25,434.70 L263.72,433.70 L263.34,432.70 L262.95,431.70 L261.55,431.70 L261.16,432.70 L260.78,433.70 L260.25,434.70 L259.45,435.47 L258.32,436.23 L257.25,437.00 L256.80,437.40 L256.37,437.80 L255.95,438.20 Z" fill="#bfe8f2" stroke="#111" stroke-width="1.1" stroke-linejoin="round"/>
<line x1="262.25" y1="437.70" x2="262.25" y2="431.70" stroke="#000" stroke-width="0.9"/>
<rect x="261.10" y="431.70" width="2.30" height="5.50" fill="#000" stroke="none" stroke-width="1"/>
<circle cx="262.25" cy="437.20" r="2.2" fill="#fff"/>
<text x="75.30" y="454.30" font-size="9.9" fill="#000" stroke="#000" stroke-width="0.1" text-anchor="end" dominant-baseline="auto" transform="rotate(-45 75.30 454.30)">Cerebral cortex</text>
<text x="89.95" y="454.30" font-size="9.9" fill="#000" stroke="#000" stroke-width="0.1" text-anchor="end" dominant-baseline="auto" transform="rotate(-45 89.95 454.30)">Brainstem</text>
<text x="104.60" y="454.30" font-size="9.9" fill="#000" stroke="#000" stroke-width="0.1" text-anchor="end" dominant-baseline="auto" transform="rotate(-45 104.60 454.30)">Cerebellum</text>
<text x="119.25" y="454.30" font-size="9.9" fill="#000" stroke="#000" stroke-width="0.1" text-anchor="end" dominant-baseline="auto" transform="rotate(-45 119.25 454.30)">Medulla</text>
<text x="133.90" y="454.30" font-size="9.9" fill="#000" stroke="#000" stroke-width="0.1" text-anchor="end" dominant-baseline="auto" transform="rotate(-45 133.90 454.30)">Left ventricle</text>
<text x="148.55" y="454.30" font-size="9.9" fill="#000" stroke="#000" stroke-width="0.1" text-anchor="end" dominant-baseline="auto" transform="rotate(-45 148.55 454.30)">Right ventricle</text>
<text x="163.20" y="454.30" font-size="9.9" fill="#000" stroke="#000" stroke-width="0.1" text-anchor="end" dominant-baseline="auto" transform="rotate(-45 163.20 454.30)">Muscle</text>
<text x="177.85" y="454.30" font-size="9.9" fill="#000" stroke="#000" stroke-width="0.1" text-anchor="end" dominant-baseline="auto" transform="rotate(-45 177.85 454.30)">Lung</text>
<text x="192.50" y="454.30" font-size="9.9" fill="#000" stroke="#000" stroke-width="0.1" text-anchor="end" dominant-baseline="auto" transform="rotate(-45 192.50 454.30)">Kidney</text>
<text x="207.15" y="454.30" font-size="9.9" fill="#000" stroke="#000" stroke-width="0.1" text-anchor="end" dominant-baseline="auto" transform="rotate(-45 207.15 454.30)">Spleen</text>
<text x="221.80" y="454.30" font-size="9.9" fill="#000" stroke="#000" stroke-width="0.1" text-anchor="end" dominant-baseline="auto" transform="rotate(-45 221.80 454.30)">Liver</text>
<text x="236.45" y="454.30" font-size="9.9" fill="#000" stroke="#000" stroke-width="0.1" text-anchor="end" dominant-baseline="auto" transform="rotate(-45 236.45 454.30)">Intestine</text>
<text x="251.10" y="454.30" font-size="9.9" fill="#000" stroke="#000" stroke-width="0.1" text-anchor="end" dominant-baseline="auto" transform="rotate(-45 251.10 454.30)">Stomach</text>
<text x="265.75" y="454.30" font-size="9.9" fill="#000" stroke="#000" stroke-width="0.1" text-anchor="end" dominant-baseline="auto" transform="rotate(-45 265.75 454.30)">Testis</text>
<text transform="translate(17.80,347.00) rotate(-90)" font-size="13.2" text-anchor="middle" fill="#000">Log<tspan font-size="7.26" dy="3.70">10</tspan><tspan dy="-3.70">(RPKM + 1)</tspan></text>
<text x="10.50" y="259.50" font-size="12.5" fill="#000" stroke="#000" stroke-width="0.1" text-anchor="start" dominant-baseline="central">C</text>
<ellipse cx="509" cy="340.6" rx="101.3" ry="45.2" transform="rotate(-39.6 509 340.6)" fill="#fee2e4"/>
<ellipse cx="496.1" cy="425.2" rx="17" ry="12.4" fill="#c9f5f8"/>
<ellipse cx="572.4" cy="445.5" rx="19.5" ry="8.8" transform="rotate(-32 572.4 445.5)" fill="#b9e3c9"/>
<rect x="425.00" y="267.30" width="214.60" height="191.90" fill="none" stroke="#111" stroke-width="1.2"/>
<line x1="419.50" y1="271.80" x2="425.00" y2="271.80" stroke="#111" stroke-width="1.1"/>
<text x="417.20" y="271.30" font-size="13" fill="#000" stroke="#000" stroke-width="0.1" text-anchor="end" dominant-baseline="central">200</text>
<line x1="419.50" y1="305.00" x2="425.00" y2="305.00" stroke="#111" stroke-width="1.1"/>
<text x="417.20" y="304.50" font-size="13" fill="#000" stroke="#000" stroke-width="0.1" text-anchor="end" dominant-baseline="central">150</text>
<line x1="419.50" y1="338.20" x2="425.00" y2="338.20" stroke="#111" stroke-width="1.1"/>
<text x="417.20" y="337.70" font-size="13" fill="#000" stroke="#000" stroke-width="0.1" text-anchor="end" dominant-baseline="central">100</text>
<line x1="419.50" y1="371.40" x2="425.00" y2="371.40" stroke="#111" stroke-width="1.1"/>
<text x="417.20" y="370.90" font-size="13" fill="#000" stroke="#000" stroke-width="0.1" text-anchor="end" dominant-baseline="central">50</text>
<line x1="419.50" y1="404.60" x2="425.00" y2="404.60" stroke="#111" stroke-width="1.1"/>
<text x="417.20" y="404.10" font-size="13" fill="#000" stroke="#000" stroke-width="0.1" text-anchor="end" dominant-baseline="central">0</text>
<line x1="419.50" y1="437.80" x2="425.00" y2="437.80" stroke="#111" stroke-width="1.1"/>
<text x="417.20" y="437.30" font-size="13" fill="#000" stroke="#000" stroke-width="0.1" text-anchor="end" dominant-baseline="central">−50</text>
<line x1="445.50" y1="459.20" x2="445.50" y2="464.70" stroke="#111" stroke-width="1.1"/>
<text x="445.50" y="474.50" font-size="13" fill="#000" stroke="#000" stroke-width="0.1" text-anchor="middle" dominant-baseline="central">−100</text>
<line x1="481.40" y1="459.20" x2="481.40" y2="464.70" stroke="#111" stroke-width="1.1"/>
<text x="481.40" y="474.50" font-size="13" fill="#000" stroke="#000" stroke-width="0.1" text-anchor="middle" dominant-baseline="central">−50</text>
<line x1="517.30" y1="459.20" x2="517.30" y2="464.70" stroke="#111" stroke-width="1.1"/>
<text x="517.30" y="474.50" font-size="13" fill="#000" stroke="#000" stroke-width="0.1" text-anchor="middle" dominant-baseline="central">0</text>
<line x1="553.20" y1="459.20" x2="553.20" y2="464.70" stroke="#111" stroke-width="1.1"/>
<text x="553.20" y="474.50" font-size="13" fill="#000" stroke="#000" stroke-width="0.1" text-anchor="middle" dominant-baseline="central">50</text>
<line x1="589.10" y1="459.20" x2="589.10" y2="464.70" stroke="#111" stroke-width="1.1"/>
<text x="589.10" y="474.50" font-size="13" fill="#000" stroke="#000" stroke-width="0.1" text-anchor="middle" dominant-baseline="central">100</text>
<line x1="625.00" y1="459.20" x2="625.00" y2="464.70" stroke="#111" stroke-width="1.1"/>
<text x="625.00" y="474.50" font-size="13" fill="#000" stroke="#000" stroke-width="0.1" text-anchor="middle" dominant-baseline="central">150</text>
<text x="532.50" y="488.70" font-size="13.5" fill="#000" stroke="#000" stroke-width="0.1" text-anchor="middle" dominant-baseline="central">PC1</text>
<text transform="translate(383.2,360.4) rotate(-90)" font-size="13.5" text-anchor="middle" dominant-baseline="central">PC2</text>
<circle cx="583.80" cy="273.60" r="3.1" fill="#f1b300"/>
<text x="578.50" y="273.80" font-size="10.2" fill="#f1b300" stroke="#f1b300" stroke-width="0.1" text-anchor="end" dominant-baseline="central">Cerebellum</text>
<circle cx="453.00" cy="333.80" r="3.1" fill="#4a6fb6"/>
<text x="456.50" y="341.80" font-size="10.2" fill="#4a6fb6" stroke="#4a6fb6" stroke-width="0.1" text-anchor="start" dominant-baseline="central">Medulla</text>
<circle cx="490.80" cy="368.80" r="3.1" fill="#e5201c"/>
<text x="494.60" y="368.80" font-size="10.2" fill="#e5201c" stroke="#e5201c" stroke-width="0.1" text-anchor="start" dominant-baseline="central">Brainstem</text>
<circle cx="434.70" cy="395.70" r="3.1" fill="#f3aa92"/>
<text x="440.30" y="395.90" font-size="10.2" fill="#f3aa92" stroke="#f3aa92" stroke-width="0.1" text-anchor="start" dominant-baseline="central">Cerebral cortex</text>
<circle cx="530.50" cy="405.40" r="3.1" fill="#7b90d2"/>
<text x="536.80" y="405.40" font-size="10.2" fill="#7b90d2" stroke="#7b90d2" stroke-width="0.1" text-anchor="start" dominant-baseline="central">Lung</text>
<circle cx="631.50" cy="410.00" r="3.1" fill="#57c0b6"/>
<text x="624.40" y="410.60" font-size="10.2" fill="#57c0b6" stroke="#57c0b6" stroke-width="0.1" text-anchor="end" dominant-baseline="central">Spleen</text>
<circle cx="433.20" cy="422.60" r="3.1" fill="#52bcd9"/>
<text x="440.60" y="433.80" font-size="10.2" fill="#52bcd9" stroke="#52bcd9" stroke-width="0.1" text-anchor="middle" dominant-baseline="central">Testis</text>
<circle cx="506.30" cy="421.40" r="3.1" fill="#f0a03c"/>
<text x="512.70" y="419.60" font-size="10.2" fill="#f0a03c" stroke="#f0a03c" stroke-width="0.1" text-anchor="start" dominant-baseline="central">Left ventricle</text>
<circle cx="485.20" cy="425.00" r="3.1" fill="#f0b8c8"/>
<text x="491.60" y="432.50" font-size="10.2" fill="#f0b8c8" stroke="#f0b8c8" stroke-width="0.1" text-anchor="end" dominant-baseline="central">Muscle</text>
<circle cx="498.20" cy="430.80" r="3.1" fill="#86c9ef"/>
<text x="493.60" y="440.60" font-size="10.2" fill="#86c9ef" stroke="#86c9ef" stroke-width="0.1" text-anchor="start" dominant-baseline="central">Right ventricle</text>
<circle cx="489.00" cy="441.70" r="3.1" fill="#985820"/>
<text x="486.80" y="450.80" font-size="10.2" fill="#985820" stroke="#985820" stroke-width="0.1" text-anchor="middle" dominant-baseline="central">Liver</text>
<circle cx="562.20" cy="437.10" r="3.1" fill="#c25eae"/>
<text x="564.70" y="429.70" font-size="10.2" fill="#c25eae" stroke="#c25eae" stroke-width="0.1" text-anchor="start" dominant-baseline="central">Kidney</text>
<circle cx="587.60" cy="438.40" r="3.1" fill="#d9b987"/>
<text x="593.40" y="438.60" font-size="10.2" fill="#d9b987" stroke="#d9b987" stroke-width="0.1" text-anchor="start" dominant-baseline="central">Intestine</text>
<circle cx="557.90" cy="452.40" r="3.1" fill="#94c43f"/>
<text x="564.00" y="452.20" font-size="10.2" fill="#94c43f" stroke="#94c43f" stroke-width="0.1" text-anchor="start" dominant-baseline="central">Stomach</text>
<text x="354.00" y="260.00" font-size="12.5" fill="#000" stroke="#000" stroke-width="0.1" text-anchor="start" dominant-baseline="central">D</text>
<polygon points="60.30,537.57 61.26,542.36 62.22,546.84 63.19,551.01 64.15,554.87 65.11,558.43 66.08,561.67 67.04,564.61 68.00,567.23 68.96,564.63 69.92,561.72 70.89,558.50 71.85,554.98 72.81,551.15 73.78,547.02 74.74,542.58 75.70,537.83 76.66,543.75 77.62,549.30 78.59,554.45 79.55,559.23 80.51,563.63 81.47,567.64 82.44,571.27 83.40,574.52 84.36,573.30 85.33,571.93 86.29,570.42 87.25,568.77 88.21,566.98 89.17,565.04 90.14,562.95 91.10,560.73 92.06,561.57 93.02,562.35 93.99,563.09 94.95,563.76 95.91,564.39 96.88,564.96 97.84,565.47 98.80,565.93 99.76,563.44 100.72,560.66 101.69,557.59 102.65,554.22 103.61,550.56 104.58,546.61 105.54,542.37 106.50,537.83 107.46,543.08 108.42,547.99 109.39,552.57 110.35,556.80 111.31,560.70 112.28,564.26 113.24,567.48 114.20,570.36 115.16,570.17 116.12,569.96 117.09,569.74 118.05,569.49 119.01,569.22 119.98,568.92 120.94,568.61 121.90,568.27 122.86,571.84 123.83,575.18 124.79,578.30 125.75,581.17 126.71,583.82 127.68,586.24 128.64,588.43 129.60,590.39 130.56,586.84 131.53,582.88 132.49,578.49 133.45,573.69 134.41,568.48 135.38,562.84 136.34,556.79 137.30,550.32 138.26,556.96 139.23,563.17 140.19,568.95 141.15,574.30 142.11,579.23 143.07,583.72 144.04,587.79 145.00,591.43 145.96,588.39 146.93,584.99 147.89,581.23 148.85,577.12 149.81,572.65 150.77,567.82 151.74,562.63 152.70,557.08 153.66,561.45 154.62,565.54 155.59,569.35 156.55,572.87 157.51,576.11 158.47,579.07 159.44,581.75 160.40,584.15 161.36,580.97 162.32,577.41 163.29,573.49 164.25,569.18 165.21,564.51 166.17,559.46 167.14,554.04 168.10,548.24 169.06,554.54 170.03,560.43 170.99,565.92 171.95,571.01 172.91,575.68 173.88,579.95 174.84,583.81 175.80,587.27 176.76,585.26 177.72,583.02 178.69,580.55 179.65,577.84 180.61,574.89 181.57,571.70 182.54,568.29 183.50,564.63 184.46,568.62 185.43,572.36 186.39,575.83 187.35,579.05 188.31,582.01 189.27,584.71 190.24,587.16 191.20,589.35 192.16,587.39 193.12,585.20 194.09,582.78 195.05,580.13 196.01,577.25 196.97,574.14 197.94,570.80 198.90,567.23 199.86,571.81 200.82,576.10 201.79,580.08 202.75,583.78 203.71,587.17 204.67,590.28 205.64,593.08 206.60,595.59 207.56,594.05 208.53,592.33 209.49,590.42 210.45,588.33 211.41,586.06 212.38,583.61 213.34,580.98 214.30,578.16 215.26,580.64 216.23,582.96 217.19,585.12 218.15,587.12 219.11,588.96 220.07,590.63 221.04,592.15 222.00,593.51 222.96,591.65 223.93,589.56 224.89,587.26 225.85,584.73 226.81,581.99 227.77,579.02 228.74,575.84 229.70,572.44 230.66,575.34 231.62,578.05 232.59,580.57 233.55,582.91 234.51,585.06 235.47,587.02 236.44,588.80 237.40,590.39 238.36,587.99 239.33,585.32 240.29,582.36 241.25,579.12 242.21,575.59 243.18,571.79 244.14,567.70 245.10,563.33 246.06,567.87 247.03,572.11 247.99,576.06 248.95,579.72 249.91,583.09 250.88,586.16 251.84,588.94 252.80,591.43 253.76,586.75 254.73,581.53 255.69,575.75 256.65,569.42 257.61,562.54 258.57,555.12 259.54,547.14 260.50,538.61 260.50,696.29 259.54,691.50 258.57,686.87 257.61,682.40 256.65,678.09 255.69,673.97 254.73,670.02 253.76,666.27 252.80,662.73 251.84,663.47 250.88,664.25 249.91,665.08 248.95,665.94 247.99,666.84 247.03,667.78 246.06,668.75 245.10,669.75 244.14,668.38 243.18,667.05 242.21,665.77 241.25,664.53 240.29,663.35 239.33,662.22 238.36,661.14 237.40,660.12 236.44,660.34 235.47,660.58 234.51,660.82 233.55,661.08 232.59,661.34 231.62,661.62 230.66,661.91 229.70,662.21 228.74,661.54 227.77,660.89 226.81,660.27 225.85,659.67 224.89,659.09 223.93,658.54 222.96,658.02 222.00,657.52 221.04,659.14 220.07,660.86 219.11,662.66 218.15,664.55 217.19,666.52 216.23,668.56 215.26,670.68 214.30,672.87 213.34,671.05 212.38,669.29 211.41,667.60 210.45,665.96 209.49,664.39 208.53,662.90 207.56,661.47 206.60,660.12 205.64,660.92 204.67,661.76 203.71,662.65 202.75,663.58 201.79,664.55 200.82,665.55 199.86,666.59 198.90,667.67 197.94,666.78 196.97,665.92 196.01,665.08 195.05,664.28 194.09,663.52 193.12,662.78 192.16,662.09 191.20,661.42 190.24,662.86 189.27,664.37 188.31,665.96 187.35,667.62 186.39,669.35 185.43,671.16 184.46,673.02 183.50,674.96 182.54,673.02 181.57,671.16 180.61,669.35 179.65,667.62 178.69,665.96 177.72,664.37 176.76,662.86 175.80,661.42 174.84,662.20 173.88,663.01 172.91,663.86 171.95,664.76 170.99,665.69 170.03,666.66 169.06,667.67 168.10,668.71 167.14,667.49 166.17,666.30 165.21,665.16 164.25,664.06 163.29,663.00 162.32,661.99 161.36,661.03 160.40,660.12 159.44,660.92 158.47,661.76 157.51,662.65 156.55,663.58 155.59,664.55 154.62,665.55 153.66,666.59 152.70,667.67 151.74,666.78 150.77,665.92 149.81,665.08 148.85,664.28 147.89,663.52 146.93,662.78 145.96,662.09 145.00,661.42 144.04,661.98 143.07,662.56 142.11,663.17 141.15,663.81 140.19,664.47 139.23,665.17 138.26,665.89 137.30,666.63 136.34,665.70 135.38,664.80 134.41,663.94 133.45,663.10 132.49,662.30 131.53,661.54 130.56,660.81 129.60,660.12 128.64,660.56 127.68,661.03 126.71,661.52 125.75,662.03 124.79,662.56 123.83,663.12 122.86,663.69 121.90,664.29 120.94,661.54 119.98,658.88 119.01,656.32 118.05,653.85 117.09,651.48 116.12,649.22 115.16,647.07 114.20,645.03 113.24,645.53 112.28,646.05 111.31,646.60 110.35,647.18 109.39,647.78 108.42,648.40 107.46,649.05 106.50,649.72 105.54,649.08 104.58,648.47 103.61,647.88 102.65,647.32 101.69,646.77 100.72,646.25 99.76,645.76 98.80,645.29 97.84,647.27 96.88,649.37 95.91,651.57 94.95,653.87 93.99,656.27 93.02,658.77 92.06,661.35 91.10,664.03 90.14,662.58 89.17,661.18 88.21,659.83 87.25,658.53 86.29,657.28 85.33,656.09 84.36,654.95 83.40,653.88 82.44,654.76 81.47,655.69 80.51,656.67 79.55,657.69 78.59,658.76 77.62,659.87 76.66,661.02 75.70,662.21 74.74,662.09 73.78,661.99 72.81,661.88 71.85,661.78 70.89,661.69 69.92,661.59 68.96,661.51 68.00,661.42 67.04,662.42 66.08,663.46 65.11,664.56 64.15,665.71 63.19,666.91 62.22,668.16 61.26,669.46 60.30,670.79" fill="#f8ad8e" stroke="#f8ad8e" stroke-width="0.8" stroke-linejoin="round"/>
<polyline points="60.30,623.18 75.70,615.11 91.10,616.41 106.50,572.70 121.90,636.45 137.30,640.61 152.70,640.61 168.10,630.20 183.50,634.88 198.90,632.28 214.30,643.21 229.70,634.88 245.10,641.13 260.50,642.95" fill="none" stroke="#d7261f" stroke-width="1.9" stroke-linejoin="round"/>
<rect x="52.50" y="518.00" width="216.10" height="182.80" fill="none" stroke="#111" stroke-width="1.2"/>
<line x1="47.30" y1="524.82" x2="52.50" y2="524.82" stroke="#111" stroke-width="1.1"/>
<text x="45.20" y="524.22" font-size="13" fill="#000" stroke="#000" stroke-width="0.1" text-anchor="end" dominant-baseline="central">4</text>
<line x1="47.30" y1="550.84" x2="52.50" y2="550.84" stroke="#111" stroke-width="1.1"/>
<text x="45.20" y="550.24" font-size="13" fill="#000" stroke="#000" stroke-width="0.1" text-anchor="end" dominant-baseline="central">3</text>
<line x1="47.30" y1="576.86" x2="52.50" y2="576.86" stroke="#111" stroke-width="1.1"/>
<text x="45.20" y="576.26" font-size="13" fill="#000" stroke="#000" stroke-width="0.1" text-anchor="end" dominant-baseline="central">2</text>
<line x1="47.30" y1="602.88" x2="52.50" y2="602.88" stroke="#111" stroke-width="1.1"/>
<text x="45.20" y="602.28" font-size="13" fill="#000" stroke="#000" stroke-width="0.1" text-anchor="end" dominant-baseline="central">1</text>
<line x1="47.30" y1="628.90" x2="52.50" y2="628.90" stroke="#111" stroke-width="1.1"/>
<text x="45.20" y="628.30" font-size="13" fill="#000" stroke="#000" stroke-width="0.1" text-anchor="end" dominant-baseline="central">0</text>
<line x1="47.30" y1="654.92" x2="52.50" y2="654.92" stroke="#111" stroke-width="1.1"/>
<text x="45.20" y="654.32" font-size="13" fill="#000" stroke="#000" stroke-width="0.1" text-anchor="end" dominant-baseline="central">−1</text>
<line x1="47.30" y1="680.94" x2="52.50" y2="680.94" stroke="#111" stroke-width="1.1"/>
<text x="45.20" y="680.34" font-size="13" fill="#000" stroke="#000" stroke-width="0.1" text-anchor="end" dominant-baseline="central">−2</text>
<line x1="60.30" y1="700.80" x2="60.30" y2="705.80" stroke="#111" stroke-width="1.1"/>
<line x1="75.70" y1="700.80" x2="75.70" y2="705.80" stroke="#111" stroke-width="1.1"/>
<line x1="91.10" y1="700.80" x2="91.10" y2="705.80" stroke="#111" stroke-width="1.1"/>
<line x1="106.50" y1="700.80" x2="106.50" y2="705.80" stroke="#111" stroke-width="1.1"/>
<line x1="121.90" y1="700.80" x2="121.90" y2="705.80" stroke="#111" stroke-width="1.1"/>
<line x1="137.30" y1="700.80" x2="137.30" y2="705.80" stroke="#111" stroke-width="1.1"/>
<line x1="152.70" y1="700.80" x2="152.70" y2="705.80" stroke="#111" stroke-width="1.1"/>
<line x1="168.10" y1="700.80" x2="168.10" y2="705.80" stroke="#111" stroke-width="1.1"/>
<line x1="183.50" y1="700.80" x2="183.50" y2="705.80" stroke="#111" stroke-width="1.1"/>
<line x1="198.90" y1="700.80" x2="198.90" y2="705.80" stroke="#111" stroke-width="1.1"/>
<line x1="214.30" y1="700.80" x2="214.30" y2="705.80" stroke="#111" stroke-width="1.1"/>
<line x1="229.70" y1="700.80" x2="229.70" y2="705.80" stroke="#111" stroke-width="1.1"/>
<line x1="245.10" y1="700.80" x2="245.10" y2="705.80" stroke="#111" stroke-width="1.1"/>
<line x1="260.50" y1="700.80" x2="260.50" y2="705.80" stroke="#111" stroke-width="1.1"/>
<text x="63.00" y="711.30" font-size="10.0" fill="#000" stroke="#000" stroke-width="0.1" text-anchor="end" dominant-baseline="auto" transform="rotate(-45 63.00 711.30)">Cerebral cortex</text>
<text x="78.40" y="711.30" font-size="10.0" fill="#000" stroke="#000" stroke-width="0.1" text-anchor="end" dominant-baseline="auto" transform="rotate(-45 78.40 711.30)">Brainstem</text>
<text x="93.80" y="711.30" font-size="10.0" fill="#000" stroke="#000" stroke-width="0.1" text-anchor="end" dominant-baseline="auto" transform="rotate(-45 93.80 711.30)">Cerebellum</text>
<text x="109.20" y="711.30" font-size="10.0" fill="#000" stroke="#000" stroke-width="0.1" text-anchor="end" dominant-baseline="auto" transform="rotate(-45 109.20 711.30)">Medulla</text>
<text x="124.60" y="711.30" font-size="10.0" fill="#000" stroke="#000" stroke-width="0.1" text-anchor="end" dominant-baseline="auto" transform="rotate(-45 124.60 711.30)">Left ventricle</text>
<text x="140.00" y="711.30" font-size="10.0" fill="#000" stroke="#000" stroke-width="0.1" text-anchor="end" dominant-baseline="auto" transform="rotate(-45 140.00 711.30)">Right ventricle</text>
<text x="155.40" y="711.30" font-size="10.0" fill="#000" stroke="#000" stroke-width="0.1" text-anchor="end" dominant-baseline="auto" transform="rotate(-45 155.40 711.30)">Muscle</text>
<text x="170.80" y="711.30" font-size="10.0" fill="#000" stroke="#000" stroke-width="0.1" text-anchor="end" dominant-baseline="auto" transform="rotate(-45 170.80 711.30)">Lung</text>
<text x="186.20" y="711.30" font-size="10.0" fill="#000" stroke="#000" stroke-width="0.1" text-anchor="end" dominant-baseline="auto" transform="rotate(-45 186.20 711.30)">Kidney</text>
<text x="201.60" y="711.30" font-size="10.0" fill="#000" stroke="#000" stroke-width="0.1" text-anchor="end" dominant-baseline="auto" transform="rotate(-45 201.60 711.30)">Spleen</text>
<text x="217.00" y="711.30" font-size="10.0" fill="#000" stroke="#000" stroke-width="0.1" text-anchor="end" dominant-baseline="auto" transform="rotate(-45 217.00 711.30)">Liver</text>
<text x="232.40" y="711.30" font-size="10.0" fill="#000" stroke="#000" stroke-width="0.1" text-anchor="end" dominant-baseline="auto" transform="rotate(-45 232.40 711.30)">Intestine</text>
<text x="247.80" y="711.30" font-size="10.0" fill="#000" stroke="#000" stroke-width="0.1" text-anchor="end" dominant-baseline="auto" transform="rotate(-45 247.80 711.30)">Stomach</text>
<text x="263.20" y="711.30" font-size="10.0" fill="#000" stroke="#000" stroke-width="0.1" text-anchor="end" dominant-baseline="auto" transform="rotate(-45 263.20 711.30)">Testis</text>
<text transform="translate(19.60,606.30) rotate(-90)" font-size="13.3" text-anchor="middle" dominant-baseline="central">Normalized expression</text>
<text x="56.70" y="524.80" font-size="11.6" fill="#e2251f" stroke="#e2251f" stroke-width="0.1" text-anchor="start" dominant-baseline="central">Cluster 1: 3,419 genes</text>
<text x="10.50" y="523.10" font-size="12.5" fill="#000" stroke="#000" stroke-width="0.1" text-anchor="start" dominant-baseline="central">E</text>
<polygon points="56.70,820.40 57.65,823.78 58.59,826.93 59.54,829.87 60.48,832.60 61.43,835.10 62.37,837.39 63.32,839.46 64.26,841.31 65.21,837.38 66.15,832.99 67.09,828.14 68.04,822.82 68.99,817.05 69.93,810.81 70.88,804.10 71.82,796.94 72.77,804.47 73.71,811.52 74.66,818.09 75.60,824.16 76.55,829.75 77.49,834.86 78.44,839.47 79.38,843.61 80.33,841.73 81.27,839.64 82.22,837.32 83.16,834.79 84.11,832.03 85.05,829.05 86.00,825.86 86.94,822.44 87.88,826.02 88.83,829.37 89.78,832.49 90.72,835.38 91.66,838.04 92.61,840.47 93.56,842.66 94.50,844.62 95.44,842.93 96.39,841.04 97.34,838.95 98.28,836.66 99.22,834.17 100.17,831.48 101.12,828.59 102.06,825.50 103.00,826.12 103.95,826.70 104.90,827.23 105.84,827.73 106.78,828.19 107.73,828.61 108.68,828.99 109.62,829.33 110.56,826.10 111.51,822.49 112.46,818.50 113.40,814.13 114.34,809.38 115.29,804.26 116.24,798.75 117.18,792.86 118.12,797.47 119.07,801.79 120.02,805.80 120.96,809.52 121.91,812.94 122.85,816.07 123.80,818.89 124.74,821.42 125.69,818.85 126.63,815.97 127.58,812.79 128.52,809.31 129.47,805.52 130.41,801.43 131.36,797.04 132.30,792.35 133.25,797.04 134.19,801.43 135.14,805.52 136.08,809.31 137.03,812.79 137.97,815.97 138.92,818.85 139.86,821.42 140.81,818.85 141.75,815.97 142.70,812.79 143.64,809.31 144.59,805.52 145.53,801.43 146.48,797.04 147.42,792.35 148.37,797.21 149.31,801.75 150.26,805.98 151.20,809.90 152.15,813.51 153.09,816.80 154.03,819.78 154.98,822.44 155.93,820.95 156.87,819.28 157.81,817.44 158.76,815.43 159.70,813.24 160.65,810.87 161.59,808.33 162.54,805.61 163.48,812.07 164.43,818.12 165.38,823.75 166.32,828.96 167.26,833.76 168.21,838.14 169.16,842.10 170.10,845.64 171.04,843.30 171.99,840.67 172.94,837.77 173.88,834.60 174.82,831.14 175.77,827.41 176.72,823.41 177.66,819.12 178.60,822.54 179.55,825.74 180.50,828.72 181.44,831.47 182.38,834.01 183.33,836.32 184.27,838.42 185.22,840.29 186.16,838.62 187.11,836.75 188.05,834.69 189.00,832.43 189.94,829.97 190.89,827.32 191.83,824.47 192.78,821.42 193.72,825.66 194.67,829.63 195.61,833.32 196.56,836.74 197.50,839.89 198.45,842.76 199.39,845.36 200.34,847.69 201.28,846.01 202.23,844.15 203.17,842.08 204.12,839.82 205.06,837.37 206.01,834.71 206.95,831.86 207.90,828.82 208.84,831.37 209.79,833.76 210.73,835.98 211.68,838.04 212.62,839.93 213.57,841.66 214.51,843.23 215.46,844.62 216.40,842.57 217.35,840.27 218.29,837.74 219.24,834.96 220.18,831.93 221.13,828.67 222.07,825.17 223.02,821.42 223.96,825.17 224.91,828.67 225.85,831.93 226.80,834.96 227.74,837.74 228.69,840.27 229.63,842.57 230.58,844.62 231.52,843.02 232.47,841.23 233.41,839.25 234.36,837.08 235.30,834.72 236.25,832.18 237.19,829.44 238.14,826.52 239.08,829.77 240.03,832.82 240.97,835.65 241.92,838.27 242.86,840.68 243.81,842.89 244.75,844.88 245.70,846.66 246.64,842.26 247.59,837.34 248.53,831.90 249.48,825.95 250.42,819.47 251.37,812.48 252.31,804.97 253.26,796.94 253.26,941.01 252.31,936.54 251.37,932.21 250.42,928.03 249.48,924.01 248.53,920.15 247.59,916.47 246.64,912.96 245.70,909.65 244.75,909.92 243.81,910.20 242.86,910.50 241.92,910.82 240.97,911.14 240.03,911.48 239.08,911.84 238.14,912.20 237.19,911.47 236.25,910.77 235.30,910.09 234.36,909.43 233.41,908.81 232.47,908.21 231.52,907.64 230.58,907.10 229.63,908.31 228.69,909.59 227.74,910.94 226.80,912.35 225.85,913.82 224.91,915.35 223.96,916.94 223.02,918.58 222.07,917.30 221.13,916.07 220.18,914.88 219.24,913.74 218.29,912.64 217.35,911.59 216.40,910.59 215.46,909.65 214.51,911.37 213.57,913.20 212.62,915.12 211.68,917.12 210.73,919.21 209.79,921.39 208.84,923.64 207.90,925.97 206.95,923.28 206.01,920.67 205.06,918.16 204.12,915.74 203.17,913.42 202.23,911.20 201.28,909.09 200.34,907.10 199.39,908.20 198.45,909.37 197.50,910.60 196.56,911.89 195.61,913.23 194.67,914.62 193.72,916.06 192.78,917.56 191.83,916.43 190.89,915.34 189.94,914.28 189.00,913.27 188.05,912.30 187.11,911.37 186.16,910.49 185.22,909.65 184.27,910.38 183.33,911.15 182.38,911.96 181.44,912.80 180.50,913.68 179.55,914.60 178.60,915.55 177.66,916.54 176.72,915.19 175.77,913.89 174.82,912.63 173.88,911.42 172.94,910.26 171.99,909.15 171.04,908.10 170.10,907.10 169.16,909.44 168.21,911.92 167.26,914.53 166.32,917.26 165.38,920.10 164.43,923.06 163.48,926.12 162.54,929.29 161.59,926.12 160.65,923.06 159.70,920.10 158.76,917.26 157.81,914.53 156.87,911.92 155.93,909.44 154.98,907.10 154.03,907.77 153.09,908.49 152.15,909.23 151.20,910.02 150.26,910.84 149.31,911.68 148.37,912.57 147.42,913.48 146.48,911.47 145.53,909.54 144.59,907.67 143.64,905.87 142.70,904.15 141.75,902.50 140.81,900.93 139.86,899.45 138.92,901.26 137.97,903.16 137.03,905.17 136.08,907.27 135.14,909.46 134.19,911.74 133.25,914.10 132.30,916.54 131.36,915.01 130.41,913.53 129.47,912.10 128.52,910.73 127.58,909.41 126.63,908.15 125.69,906.96 124.74,905.83 123.80,905.72 122.85,905.60 121.91,905.48 120.96,905.36 120.02,905.23 119.07,905.09 118.12,904.95 117.18,904.81 116.24,904.66 115.29,904.52 114.34,904.38 113.40,904.25 112.46,904.13 111.51,904.01 110.56,903.89 109.62,903.78 108.68,905.91 107.73,908.16 106.78,910.53 105.84,913.01 104.90,915.59 103.95,918.27 103.00,921.05 102.06,923.93 101.12,921.89 100.17,919.92 99.22,918.02 98.28,916.19 97.34,914.43 96.39,912.75 95.44,911.16 94.50,909.65 93.56,910.59 92.61,911.59 91.66,912.64 90.72,913.74 89.78,914.88 88.83,916.07 87.88,917.30 86.94,918.58 86.00,917.08 85.05,915.64 84.11,914.25 83.16,912.91 82.22,911.62 81.27,910.39 80.33,909.22 79.38,908.12 78.44,909.58 77.49,911.11 76.55,912.73 75.60,914.42 74.66,916.19 73.71,918.02 72.77,919.92 71.82,921.89 70.88,920.51 69.93,919.17 68.99,917.88 68.04,916.64 67.09,915.45 66.15,914.31 65.21,913.22 64.26,912.20 63.32,914.09 62.37,916.08 61.43,918.18 60.48,920.37 59.54,922.66 58.59,925.04 57.65,927.50 56.70,930.05" fill="#88a7d6" stroke="#88a7d6" stroke-width="0.8" stroke-linejoin="round"/>
<line x1="56.70" y1="806.38" x2="61.70" y2="840.80" stroke="#88a7d6" stroke-width="1.2"/>
<polyline points="56.70,933.88 71.82,921.12 74.82,909.65" fill="none" stroke="#88a7d6" stroke-width="1.2"/>
<polyline points="56.70,899.71 71.82,889.00 86.94,882.11 102.06,894.35 117.18,851.51 132.30,859.42 147.42,853.04 162.54,887.98 177.66,882.62 192.78,884.92 207.90,892.06 223.02,881.09 238.14,886.45 253.26,900.73" fill="none" stroke="#2a4595" stroke-width="1.9" stroke-linejoin="round"/>
<rect x="49.70" y="773.50" width="211.50" height="178.60" fill="none" stroke="#111" stroke-width="1.2"/>
<line x1="44.50" y1="779.60" x2="49.70" y2="779.60" stroke="#111" stroke-width="1.1"/>
<text x="42.40" y="779.00" font-size="13" fill="#000" stroke="#000" stroke-width="0.1" text-anchor="end" dominant-baseline="central">4</text>
<line x1="44.50" y1="805.10" x2="49.70" y2="805.10" stroke="#111" stroke-width="1.1"/>
<text x="42.40" y="804.50" font-size="13" fill="#000" stroke="#000" stroke-width="0.1" text-anchor="end" dominant-baseline="central">3</text>
<line x1="44.50" y1="830.60" x2="49.70" y2="830.60" stroke="#111" stroke-width="1.1"/>
<text x="42.40" y="830.00" font-size="13" fill="#000" stroke="#000" stroke-width="0.1" text-anchor="end" dominant-baseline="central">2</text>
<line x1="44.50" y1="856.10" x2="49.70" y2="856.10" stroke="#111" stroke-width="1.1"/>
<text x="42.40" y="855.50" font-size="13" fill="#000" stroke="#000" stroke-width="0.1" text-anchor="end" dominant-baseline="central">1</text>
<line x1="44.50" y1="881.60" x2="49.70" y2="881.60" stroke="#111" stroke-width="1.1"/>
<text x="42.40" y="881.00" font-size="13" fill="#000" stroke="#000" stroke-width="0.1" text-anchor="end" dominant-baseline="central">0</text>
<line x1="44.50" y1="907.10" x2="49.70" y2="907.10" stroke="#111" stroke-width="1.1"/>
<text x="42.40" y="906.50" font-size="13" fill="#000" stroke="#000" stroke-width="0.1" text-anchor="end" dominant-baseline="central">−1</text>
<line x1="44.50" y1="932.60" x2="49.70" y2="932.60" stroke="#111" stroke-width="1.1"/>
<text x="42.40" y="932.00" font-size="13" fill="#000" stroke="#000" stroke-width="0.1" text-anchor="end" dominant-baseline="central">−2</text>
<line x1="56.70" y1="952.10" x2="56.70" y2="957.10" stroke="#111" stroke-width="1.1"/>
<line x1="71.82" y1="952.10" x2="71.82" y2="957.10" stroke="#111" stroke-width="1.1"/>
<line x1="86.94" y1="952.10" x2="86.94" y2="957.10" stroke="#111" stroke-width="1.1"/>
<line x1="102.06" y1="952.10" x2="102.06" y2="957.10" stroke="#111" stroke-width="1.1"/>
<line x1="117.18" y1="952.10" x2="117.18" y2="957.10" stroke="#111" stroke-width="1.1"/>
<line x1="132.30" y1="952.10" x2="132.30" y2="957.10" stroke="#111" stroke-width="1.1"/>
<line x1="147.42" y1="952.10" x2="147.42" y2="957.10" stroke="#111" stroke-width="1.1"/>
<line x1="162.54" y1="952.10" x2="162.54" y2="957.10" stroke="#111" stroke-width="1.1"/>
<line x1="177.66" y1="952.10" x2="177.66" y2="957.10" stroke="#111" stroke-width="1.1"/>
<line x1="192.78" y1="952.10" x2="192.78" y2="957.10" stroke="#111" stroke-width="1.1"/>
<line x1="207.90" y1="952.10" x2="207.90" y2="957.10" stroke="#111" stroke-width="1.1"/>
<line x1="223.02" y1="952.10" x2="223.02" y2="957.10" stroke="#111" stroke-width="1.1"/>
<line x1="238.14" y1="952.10" x2="238.14" y2="957.10" stroke="#111" stroke-width="1.1"/>
<line x1="253.26" y1="952.10" x2="253.26" y2="957.10" stroke="#111" stroke-width="1.1"/>
<text x="59.40" y="962.60" font-size="10.0" fill="#000" stroke="#000" stroke-width="0.1" text-anchor="end" dominant-baseline="auto" transform="rotate(-45 59.40 962.60)">Cerebral cortex</text>
<text x="74.52" y="962.60" font-size="10.0" fill="#000" stroke="#000" stroke-width="0.1" text-anchor="end" dominant-baseline="auto" transform="rotate(-45 74.52 962.60)">Brainstem</text>
<text x="89.64" y="962.60" font-size="10.0" fill="#000" stroke="#000" stroke-width="0.1" text-anchor="end" dominant-baseline="auto" transform="rotate(-45 89.64 962.60)">Cerebellum</text>
<text x="104.76" y="962.60" font-size="10.0" fill="#000" stroke="#000" stroke-width="0.1" text-anchor="end" dominant-baseline="auto" transform="rotate(-45 104.76 962.60)">Medulla</text>
<text x="119.88" y="962.60" font-size="10.0" fill="#000" stroke="#000" stroke-width="0.1" text-anchor="end" dominant-baseline="auto" transform="rotate(-45 119.88 962.60)">Left ventricle</text>
<text x="135.00" y="962.60" font-size="10.0" fill="#000" stroke="#000" stroke-width="0.1" text-anchor="end" dominant-baseline="auto" transform="rotate(-45 135.00 962.60)">Right ventricle</text>
<text x="150.12" y="962.60" font-size="10.0" fill="#000" stroke="#000" stroke-width="0.1" text-anchor="end" dominant-baseline="auto" transform="rotate(-45 150.12 962.60)">Muscle</text>
<text x="165.24" y="962.60" font-size="10.0" fill="#000" stroke="#000" stroke-width="0.1" text-anchor="end" dominant-baseline="auto" transform="rotate(-45 165.24 962.60)">Lung</text>
<text x="180.36" y="962.60" font-size="10.0" fill="#000" stroke="#000" stroke-width="0.1" text-anchor="end" dominant-baseline="auto" transform="rotate(-45 180.36 962.60)">Kidney</text>
<text x="195.48" y="962.60" font-size="10.0" fill="#000" stroke="#000" stroke-width="0.1" text-anchor="end" dominant-baseline="auto" transform="rotate(-45 195.48 962.60)">Spleen</text>
<text x="210.60" y="962.60" font-size="10.0" fill="#000" stroke="#000" stroke-width="0.1" text-anchor="end" dominant-baseline="auto" transform="rotate(-45 210.60 962.60)">Liver</text>
<text x="225.72" y="962.60" font-size="10.0" fill="#000" stroke="#000" stroke-width="0.1" text-anchor="end" dominant-baseline="auto" transform="rotate(-45 225.72 962.60)">Intestine</text>
<text x="240.84" y="962.60" font-size="10.0" fill="#000" stroke="#000" stroke-width="0.1" text-anchor="end" dominant-baseline="auto" transform="rotate(-45 240.84 962.60)">Stomach</text>
<text x="255.96" y="962.60" font-size="10.0" fill="#000" stroke="#000" stroke-width="0.1" text-anchor="end" dominant-baseline="auto" transform="rotate(-45 255.96 962.60)">Testis</text>
<text transform="translate(19.60,858.20) rotate(-90)" font-size="13.3" text-anchor="middle" dominant-baseline="central">Normalized expression</text>
<text x="51.80" y="780.50" font-size="11.6" fill="#e2251f" stroke="#e2251f" stroke-width="0.1" text-anchor="start" dominant-baseline="central">Cluster 2: 2,276 genes</text>
<text x="10.50" y="772.70" font-size="12.5" fill="#000" stroke="#000" stroke-width="0.1" text-anchor="start" dominant-baseline="central">G</text>
<rect x="514.20" y="554.40" width="187.85" height="8.20" fill="#e02a27" stroke="none" stroke-width="1"/>
<text x="511.00" y="559.50" font-size="10.0" fill="#000" stroke="#000" stroke-width="0.1" text-anchor="end" dominant-baseline="central">Locomotory behavior</text>
<rect x="543.75" y="553.90" width="1.80" height="9.20" fill="#fff" stroke="none" stroke-width="1"/>
<rect x="574.80" y="553.90" width="1.80" height="9.20" fill="#fff" stroke="none" stroke-width="1"/>
<rect x="605.85" y="553.90" width="1.80" height="9.20" fill="#fff" stroke="none" stroke-width="1"/>
<rect x="636.90" y="553.90" width="1.80" height="9.20" fill="#fff" stroke="none" stroke-width="1"/>
<rect x="667.95" y="553.90" width="1.80" height="9.20" fill="#fff" stroke="none" stroke-width="1"/>
<rect x="699.00" y="553.90" width="1.80" height="9.20" fill="#fff" stroke="none" stroke-width="1"/>
<rect x="514.20" y="564.77" width="130.41" height="8.20" fill="#e02a27" stroke="none" stroke-width="1"/>
<text x="511.00" y="569.87" font-size="10.0" fill="#000" stroke="#000" stroke-width="0.1" text-anchor="end" dominant-baseline="central">Positive regulation of axonogenesis</text>
<rect x="543.75" y="564.27" width="1.80" height="9.20" fill="#fff" stroke="none" stroke-width="1"/>
<rect x="574.80" y="564.27" width="1.80" height="9.20" fill="#fff" stroke="none" stroke-width="1"/>
<rect x="605.85" y="564.27" width="1.80" height="9.20" fill="#fff" stroke="none" stroke-width="1"/>
<rect x="636.90" y="564.27" width="1.80" height="9.20" fill="#fff" stroke="none" stroke-width="1"/>
<rect x="514.20" y="575.14" width="111.78" height="8.20" fill="#e02a27" stroke="none" stroke-width="1"/>
<text x="511.00" y="580.24" font-size="10.0" fill="#000" stroke="#000" stroke-width="0.1" text-anchor="end" dominant-baseline="central">Response to amphetamine</text>
<rect x="543.75" y="574.64" width="1.80" height="9.20" fill="#fff" stroke="none" stroke-width="1"/>
<rect x="574.80" y="574.64" width="1.80" height="9.20" fill="#fff" stroke="none" stroke-width="1"/>
<rect x="605.85" y="574.64" width="1.80" height="9.20" fill="#fff" stroke="none" stroke-width="1"/>
<rect x="514.20" y="585.51" width="104.33" height="8.20" fill="#e02a27" stroke="none" stroke-width="1"/>
<text x="511.00" y="590.61" font-size="10.0" fill="#000" stroke="#000" stroke-width="0.1" text-anchor="end" dominant-baseline="central">Adult walking behavior</text>
<rect x="543.75" y="585.01" width="1.80" height="9.20" fill="#fff" stroke="none" stroke-width="1"/>
<rect x="574.80" y="585.01" width="1.80" height="9.20" fill="#fff" stroke="none" stroke-width="1"/>
<rect x="605.85" y="585.01" width="1.80" height="9.20" fill="#fff" stroke="none" stroke-width="1"/>
<rect x="514.20" y="595.88" width="104.33" height="8.20" fill="#e02a27" stroke="none" stroke-width="1"/>
<text x="511.00" y="600.98" font-size="10.0" fill="#000" stroke="#000" stroke-width="0.1" text-anchor="end" dominant-baseline="central">Skeletal system development</text>
<rect x="543.75" y="595.38" width="1.80" height="9.20" fill="#fff" stroke="none" stroke-width="1"/>
<rect x="574.80" y="595.38" width="1.80" height="9.20" fill="#fff" stroke="none" stroke-width="1"/>
<rect x="605.85" y="595.38" width="1.80" height="9.20" fill="#fff" stroke="none" stroke-width="1"/>
<rect x="514.20" y="606.25" width="97.81" height="8.20" fill="#e02a27" stroke="none" stroke-width="1"/>
<text x="511.00" y="611.35" font-size="10.0" fill="#000" stroke="#000" stroke-width="0.1" text-anchor="end" dominant-baseline="central">Chemical synaptic transmission</text>
<rect x="543.75" y="605.75" width="1.80" height="9.20" fill="#fff" stroke="none" stroke-width="1"/>
<rect x="574.80" y="605.75" width="1.80" height="9.20" fill="#fff" stroke="none" stroke-width="1"/>
<rect x="605.85" y="605.75" width="1.80" height="9.20" fill="#fff" stroke="none" stroke-width="1"/>
<rect x="514.20" y="616.62" width="94.39" height="8.20" fill="#e02a27" stroke="none" stroke-width="1"/>
<text x="511.00" y="621.72" font-size="10.0" fill="#000" stroke="#000" stroke-width="0.1" text-anchor="end" dominant-baseline="central">Somitogenesis</text>
<rect x="543.75" y="616.12" width="1.80" height="9.20" fill="#fff" stroke="none" stroke-width="1"/>
<rect x="574.80" y="616.12" width="1.80" height="9.20" fill="#fff" stroke="none" stroke-width="1"/>
<rect x="605.85" y="616.12" width="1.80" height="9.20" fill="#fff" stroke="none" stroke-width="1"/>
<rect x="514.20" y="626.99" width="87.56" height="8.20" fill="#e02a27" stroke="none" stroke-width="1"/>
<text x="511.00" y="632.09" font-size="10.0" fill="#000" stroke="#000" stroke-width="0.1" text-anchor="end" dominant-baseline="central">Hippocampus development</text>
<rect x="543.75" y="626.49" width="1.80" height="9.20" fill="#fff" stroke="none" stroke-width="1"/>
<rect x="574.80" y="626.49" width="1.80" height="9.20" fill="#fff" stroke="none" stroke-width="1"/>
<rect x="514.20" y="637.36" width="81.04" height="8.20" fill="#e02a27" stroke="none" stroke-width="1"/>
<text x="511.00" y="642.46" font-size="10.0" fill="#000" stroke="#000" stroke-width="0.1" text-anchor="end" dominant-baseline="central">Learning</text>
<rect x="543.75" y="636.86" width="1.80" height="9.20" fill="#fff" stroke="none" stroke-width="1"/>
<rect x="574.80" y="636.86" width="1.80" height="9.20" fill="#fff" stroke="none" stroke-width="1"/>
<rect x="514.20" y="647.73" width="81.04" height="8.20" fill="#e02a27" stroke="none" stroke-width="1"/>
<text x="511.00" y="652.83" font-size="10.0" fill="#000" stroke="#000" stroke-width="0.1" text-anchor="end" dominant-baseline="central">Response to wounding</text>
<rect x="543.75" y="647.23" width="1.80" height="9.20" fill="#fff" stroke="none" stroke-width="1"/>
<rect x="574.80" y="647.23" width="1.80" height="9.20" fill="#fff" stroke="none" stroke-width="1"/>
<line x1="513.65" y1="658.40" x2="701.05" y2="658.40" stroke="#111" stroke-width="1.1"/>
<line x1="514.20" y1="658.40" x2="514.20" y2="663.40" stroke="#111" stroke-width="1.1"/>
<text x="514.20" y="671.70" font-size="13" fill="#000" stroke="#000" stroke-width="0.1" text-anchor="middle" dominant-baseline="central">0</text>
<line x1="545.25" y1="658.40" x2="545.25" y2="663.40" stroke="#111" stroke-width="1.1"/>
<text x="545.25" y="671.70" font-size="13" fill="#000" stroke="#000" stroke-width="0.1" text-anchor="middle" dominant-baseline="central">1</text>
<line x1="576.30" y1="658.40" x2="576.30" y2="663.40" stroke="#111" stroke-width="1.1"/>
<text x="576.30" y="671.70" font-size="13" fill="#000" stroke="#000" stroke-width="0.1" text-anchor="middle" dominant-baseline="central">2</text>
<line x1="607.35" y1="658.40" x2="607.35" y2="663.40" stroke="#111" stroke-width="1.1"/>
<text x="607.35" y="671.70" font-size="13" fill="#000" stroke="#000" stroke-width="0.1" text-anchor="middle" dominant-baseline="central">3</text>
<line x1="638.40" y1="658.40" x2="638.40" y2="663.40" stroke="#111" stroke-width="1.1"/>
<text x="638.40" y="671.70" font-size="13" fill="#000" stroke="#000" stroke-width="0.1" text-anchor="middle" dominant-baseline="central">4</text>
<line x1="669.45" y1="658.40" x2="669.45" y2="663.40" stroke="#111" stroke-width="1.1"/>
<text x="669.45" y="671.70" font-size="13" fill="#000" stroke="#000" stroke-width="0.1" text-anchor="middle" dominant-baseline="central">5</text>
<line x1="700.50" y1="658.40" x2="700.50" y2="663.40" stroke="#111" stroke-width="1.1"/>
<text x="700.50" y="671.70" font-size="13" fill="#000" stroke="#000" stroke-width="0.1" text-anchor="middle" dominant-baseline="central">6</text>
<text x="606.10" y="541.80" font-size="13" fill="#e2251f" stroke="#e2251f" stroke-width="0.1" text-anchor="middle" dominant-baseline="central">Cluster 1</text>
<text x="609.00" y="690.00" font-size="13.7" text-anchor="middle" dominant-baseline="central">-Log<tspan font-size="7.95" dy="4.52">10</tspan><tspan dy="-4.52">(</tspan><tspan font-style="italic">P</tspan> value)</text>
<text x="354.50" y="507.50" font-size="12.5" fill="#000" stroke="#000" stroke-width="0.1" text-anchor="start" dominant-baseline="central">F</text>
<rect x="511.20" y="802.10" width="182.59" height="8.00" fill="#3a4f9e" stroke="none" stroke-width="1"/>
<text x="508.60" y="807.10" font-size="9.9" fill="#000" stroke="#000" stroke-width="0.1" text-anchor="end" dominant-baseline="central">Muscle contraction</text>
<rect x="547.74" y="801.60" width="1.80" height="9.00" fill="#fff" stroke="none" stroke-width="1"/>
<rect x="585.78" y="801.60" width="1.80" height="9.00" fill="#fff" stroke="none" stroke-width="1"/>
<rect x="623.82" y="801.60" width="1.80" height="9.00" fill="#fff" stroke="none" stroke-width="1"/>
<rect x="661.86" y="801.60" width="1.80" height="9.00" fill="#fff" stroke="none" stroke-width="1"/>
<rect x="511.20" y="812.74" width="99.47" height="8.00" fill="#3a4f9e" stroke="none" stroke-width="1"/>
<text x="508.60" y="817.74" font-size="9.9" fill="#000" stroke="#000" stroke-width="0.1" text-anchor="end" dominant-baseline="central">Sarcomere organization</text>
<rect x="547.74" y="812.24" width="1.80" height="9.00" fill="#fff" stroke="none" stroke-width="1"/>
<rect x="585.78" y="812.24" width="1.80" height="9.00" fill="#fff" stroke="none" stroke-width="1"/>
<rect x="511.20" y="823.38" width="94.34" height="8.00" fill="#3a4f9e" stroke="none" stroke-width="1"/>
<text x="508.60" y="828.38" font-size="9.9" fill="#000" stroke="#000" stroke-width="0.1" text-anchor="end" dominant-baseline="central">Skeletal muscle contraction</text>
<rect x="547.74" y="822.88" width="1.80" height="9.00" fill="#fff" stroke="none" stroke-width="1"/>
<rect x="585.78" y="822.88" width="1.80" height="9.00" fill="#fff" stroke="none" stroke-width="1"/>
<rect x="511.20" y="834.02" width="86.16" height="8.00" fill="#3a4f9e" stroke="none" stroke-width="1"/>
<text x="508.60" y="839.02" font-size="9.9" fill="#000" stroke="#000" stroke-width="0.1" text-anchor="end" dominant-baseline="central">Glycogen biosynthetic process</text>
<rect x="547.74" y="833.52" width="1.80" height="9.00" fill="#fff" stroke="none" stroke-width="1"/>
<rect x="585.78" y="833.52" width="1.80" height="9.00" fill="#fff" stroke="none" stroke-width="1"/>
<rect x="511.20" y="844.66" width="85.21" height="8.00" fill="#3a4f9e" stroke="none" stroke-width="1"/>
<text x="508.60" y="849.66" font-size="9.9" fill="#000" stroke="#000" stroke-width="0.1" text-anchor="end" dominant-baseline="central">Tricarboxylic acid cycle</text>
<rect x="547.74" y="844.16" width="1.80" height="9.00" fill="#fff" stroke="none" stroke-width="1"/>
<rect x="585.78" y="844.16" width="1.80" height="9.00" fill="#fff" stroke="none" stroke-width="1"/>
<rect x="511.20" y="855.30" width="78.74" height="8.00" fill="#3a4f9e" stroke="none" stroke-width="1"/>
<text x="508.60" y="860.30" font-size="9.9" fill="#000" stroke="#000" stroke-width="0.1" text-anchor="end" dominant-baseline="central">Myofibril assembly</text>
<rect x="547.74" y="854.80" width="1.80" height="9.00" fill="#fff" stroke="none" stroke-width="1"/>
<rect x="585.78" y="854.80" width="1.80" height="9.00" fill="#fff" stroke="none" stroke-width="1"/>
<rect x="511.20" y="865.94" width="78.74" height="8.00" fill="#3a4f9e" stroke="none" stroke-width="1"/>
<text x="508.60" y="870.94" font-size="9.9" fill="#000" stroke="#000" stroke-width="0.1" text-anchor="end" dominant-baseline="central">Mitochondrial electron transport</text>
<rect x="547.74" y="865.44" width="1.80" height="9.00" fill="#fff" stroke="none" stroke-width="1"/>
<rect x="585.78" y="865.44" width="1.80" height="9.00" fill="#fff" stroke="none" stroke-width="1"/>
<rect x="511.20" y="876.58" width="65.43" height="8.00" fill="#3a4f9e" stroke="none" stroke-width="1"/>
<text x="508.60" y="881.58" font-size="9.9" fill="#000" stroke="#000" stroke-width="0.1" text-anchor="end" dominant-baseline="central">Cardiac myofibril assembly</text>
<rect x="547.74" y="876.08" width="1.80" height="9.00" fill="#fff" stroke="none" stroke-width="1"/>
<rect x="511.20" y="887.22" width="63.15" height="8.00" fill="#3a4f9e" stroke="none" stroke-width="1"/>
<text x="508.60" y="892.22" font-size="9.9" fill="#000" stroke="#000" stroke-width="0.1" text-anchor="end" dominant-baseline="central">Cardiac muscle contraction</text>
<rect x="547.74" y="886.72" width="1.80" height="9.00" fill="#fff" stroke="none" stroke-width="1"/>
<rect x="511.20" y="897.86" width="55.35" height="8.00" fill="#3a4f9e" stroke="none" stroke-width="1"/>
<text x="508.60" y="902.86" font-size="9.9" fill="#000" stroke="#000" stroke-width="0.1" text-anchor="end" dominant-baseline="central">Cellular respiration</text>
<rect x="547.74" y="897.36" width="1.80" height="9.00" fill="#fff" stroke="none" stroke-width="1"/>
<line x1="510.65" y1="908.20" x2="701.95" y2="908.20" stroke="#111" stroke-width="1.1"/>
<line x1="511.20" y1="908.20" x2="511.20" y2="913.20" stroke="#111" stroke-width="1.1"/>
<text x="511.20" y="921.50" font-size="13" fill="#000" stroke="#000" stroke-width="0.1" text-anchor="middle" dominant-baseline="central">0</text>
<line x1="549.24" y1="908.20" x2="549.24" y2="913.20" stroke="#111" stroke-width="1.1"/>
<text x="549.24" y="921.50" font-size="13" fill="#000" stroke="#000" stroke-width="0.1" text-anchor="middle" dominant-baseline="central">2</text>
<line x1="587.28" y1="908.20" x2="587.28" y2="913.20" stroke="#111" stroke-width="1.1"/>
<text x="587.28" y="921.50" font-size="13" fill="#000" stroke="#000" stroke-width="0.1" text-anchor="middle" dominant-baseline="central">4</text>
<line x1="625.32" y1="908.20" x2="625.32" y2="913.20" stroke="#111" stroke-width="1.1"/>
<text x="625.32" y="921.50" font-size="13" fill="#000" stroke="#000" stroke-width="0.1" text-anchor="middle" dominant-baseline="central">6</text>
<line x1="663.36" y1="908.20" x2="663.36" y2="913.20" stroke="#111" stroke-width="1.1"/>
<text x="663.36" y="921.50" font-size="13" fill="#000" stroke="#000" stroke-width="0.1" text-anchor="middle" dominant-baseline="central">8</text>
<line x1="701.40" y1="908.20" x2="701.40" y2="913.20" stroke="#111" stroke-width="1.1"/>
<text x="701.40" y="921.50" font-size="13" fill="#000" stroke="#000" stroke-width="0.1" text-anchor="middle" dominant-baseline="central">10</text>
<text x="598.80" y="790.30" font-size="13" fill="#3d55a6" stroke="#3d55a6" stroke-width="0.1" text-anchor="middle" dominant-baseline="central">Cluster 2</text>
<text x="609.00" y="940.00" font-size="13.7" text-anchor="middle" dominant-baseline="central">-Log<tspan font-size="7.95" dy="4.52">10</tspan><tspan dy="-4.52">(</tspan><tspan font-style="italic">P</tspan> value)</text>
<text x="352.50" y="763.20" font-size="12.5" fill="#000" stroke="#000" stroke-width="0.1" text-anchor="start" dominant-baseline="central">H</text>
<path d="M101.70,26.60 C105.17,26.43 107.50,26.78 110.80,27.60 C114.10,28.42 118.53,30.13 121.50,31.50 C124.47,32.87 127.25,33.95 128.60,35.80 C129.95,37.65 129.28,39.58 129.60,42.60 C129.92,45.62 130.27,50.15 130.50,53.90 C130.73,57.65 131.20,62.37 131.00,65.10 C130.80,67.83 130.10,68.72 129.30,70.30 C128.50,71.88 125.72,73.43 126.20,74.60 C126.68,75.77 130.02,76.57 132.20,77.30 C134.38,78.03 137.42,78.13 139.30,79.00 C141.18,79.87 142.25,80.45 143.50,82.50 C144.75,84.55 145.78,87.63 146.80,91.30 C147.82,94.97 148.12,100.67 149.60,104.50 C151.08,108.33 152.63,111.57 155.70,114.30 C158.77,117.03 163.85,118.38 168.00,120.90 C172.15,123.42 176.60,125.88 180.60,129.40 C184.60,132.92 188.93,137.53 192.00,142.00 C195.07,146.47 197.35,151.25 199.00,156.20 C200.65,161.15 201.53,167.48 201.90,171.70 C202.27,175.92 201.92,178.78 201.20,181.50 C200.48,184.22 198.97,186.62 197.60,188.00 C196.23,189.38 194.47,189.83 193.00,189.80 C191.53,189.77 189.73,189.77 188.80,187.80 C187.87,185.83 187.82,182.10 187.40,178.00 C186.98,173.90 187.67,168.02 186.30,163.20 C184.93,158.38 182.02,153.10 179.20,149.10 C176.38,145.10 173.15,142.02 169.40,139.20 C165.65,136.38 161.00,134.90 156.70,132.20 C152.40,129.50 146.80,125.87 143.60,123.00 C140.40,120.13 138.67,116.77 137.50,115.00 C136.33,113.23 136.80,110.57 136.60,112.40 C136.40,114.23 136.30,121.53 136.30,126.00 C136.30,130.47 135.55,136.08 136.60,139.20 C137.65,142.32 139.25,142.58 142.60,144.70 C145.95,146.82 152.75,148.92 156.70,151.90 C160.65,154.88 164.20,159.28 166.30,162.60 C168.40,165.92 169.18,168.47 169.30,171.80 C169.42,175.13 168.47,179.17 167.00,182.60 C165.53,186.03 162.92,188.73 160.50,192.40 C158.08,196.07 151.75,201.42 152.50,204.60 C153.25,207.78 160.75,209.43 165.00,211.50 C169.25,213.57 175.10,215.50 178.00,217.00 C180.90,218.50 181.82,219.20 182.40,220.50 C182.98,221.80 182.47,223.83 181.50,224.80 C180.53,225.77 179.35,226.57 176.60,226.30 C173.85,226.03 169.27,224.28 165.00,223.20 C160.73,222.12 153.78,219.57 151.00,219.80 C148.22,220.03 149.37,223.03 148.30,224.60 C147.23,226.17 146.15,228.20 144.60,229.20 C143.05,230.20 140.70,230.87 139.00,230.60 C137.30,230.33 135.52,229.47 134.40,227.60 C133.28,225.73 133.12,221.75 132.30,219.40 C131.48,217.05 131.85,214.30 129.50,213.50 C127.15,212.70 122.43,213.42 118.20,214.60 C113.97,215.78 108.30,218.28 104.10,220.60 C99.90,222.92 97.18,225.97 93.00,228.50 C88.82,231.03 83.92,234.17 79.00,235.80 C74.08,237.43 68.92,238.50 63.50,238.30 C58.08,238.10 51.92,236.62 46.50,234.60 C41.08,232.58 35.47,229.48 31.00,226.20 C26.53,222.92 22.72,218.67 19.70,214.90 C16.68,211.13 14.32,207.55 12.90,203.60 C11.48,199.65 12.03,193.63 11.20,191.20 C10.37,188.77 9.23,190.30 7.90,189.00 C6.57,187.70 4.38,185.65 3.20,183.40 C2.02,181.15 1.13,178.67 0.80,175.50 C0.47,172.33 0.53,168.10 1.20,164.40 C1.87,160.70 3.28,157.00 4.80,153.30 C6.32,149.60 7.80,145.77 10.30,142.20 C12.80,138.63 16.93,134.77 19.80,131.90 C22.67,129.03 24.55,127.25 27.50,125.00 C30.45,122.75 34.33,120.65 37.50,118.40 C40.67,116.15 44.12,113.65 46.50,111.50 C48.88,109.35 50.28,107.92 51.80,105.50 C53.32,103.08 54.63,99.82 55.60,97.00 C56.57,94.18 56.90,91.03 57.60,88.60 C58.30,86.17 58.80,83.97 59.80,82.40 C60.80,80.83 61.98,79.97 63.60,79.20 C65.22,78.43 67.17,78.23 69.50,77.80 C71.83,77.37 76.15,77.13 77.60,76.60 C79.05,76.07 78.73,75.55 78.20,74.60 C77.67,73.65 75.37,72.35 74.40,70.90 C73.43,69.45 72.60,68.73 72.40,65.90 C72.20,63.07 72.87,57.78 73.20,53.90 C73.53,50.02 74.18,45.17 74.40,42.60 C74.62,40.03 74.07,39.77 74.50,38.50 C74.93,37.23 75.83,36.12 77.00,35.00 C78.17,33.88 79.33,32.87 81.50,31.80 C83.67,30.73 86.63,29.47 90.00,28.60 C93.37,27.73 98.23,26.77 101.70,26.60 Z" fill="#000"/>
<path d="M62.10,178.40 C63.87,176.40 66.75,174.62 70.50,173.30 C74.25,171.98 79.68,171.10 84.60,170.50 C89.52,169.90 94.40,169.45 100.00,169.70 C105.60,169.95 112.12,170.92 118.20,172.00 C124.28,173.08 132.42,174.43 136.50,176.20 C140.58,177.97 141.55,180.13 142.70,182.60 C143.85,185.07 143.95,188.65 143.40,191.00 C142.85,193.35 141.72,195.40 139.40,196.70 C137.08,198.00 133.03,198.32 129.50,198.80 C125.97,199.28 121.62,199.23 118.20,199.60 C114.78,199.97 112.28,199.77 109.00,201.00 C105.72,202.23 101.62,204.53 98.50,207.00 C95.38,209.47 93.55,212.87 90.30,215.80 C87.05,218.73 82.22,222.65 79.00,224.60 C75.78,226.55 72.03,229.35 71.00,227.50 C69.97,225.65 72.53,218.08 72.80,213.50 C73.07,208.92 73.22,202.58 72.60,200.00 C71.98,197.42 70.85,199.00 69.10,198.00 C67.35,197.00 63.63,196.12 62.10,194.00 C60.57,191.88 59.90,187.90 59.90,185.30 C59.90,182.70 60.33,180.40 62.10,178.40 Z" fill="#fff"/>
<path d="M36.70,161.80 C35.98,161.80 31.85,165.97 30.00,168.50 C28.15,171.03 26.48,173.92 25.60,177.00 C24.72,180.08 24.70,183.27 24.70,187.00 C24.70,190.73 24.32,194.98 25.60,199.40 C26.88,203.82 29.15,209.52 32.40,213.50 C35.65,217.48 41.10,220.80 45.10,223.30 C49.10,225.80 54.33,227.52 56.40,228.50 C58.47,229.48 57.57,230.28 57.50,229.20 C57.43,228.12 56.53,224.62 56.00,222.00 C55.47,219.38 55.63,217.08 54.30,213.50 C52.97,209.92 50.30,204.58 48.00,200.50 C45.70,196.42 42.67,192.83 40.50,189.00 C38.33,185.17 36.03,180.92 35.00,177.50 C33.97,174.08 34.02,171.12 34.30,168.50 C34.58,165.88 37.42,161.80 36.70,161.80 Z" fill="#fff"/>
<path d="M67.30,112.40 C67.13,110.47 68.37,110.65 67.30,112.40 C66.23,114.15 63.65,119.88 60.90,122.90 C58.15,125.92 54.60,127.75 50.80,130.50 C47.00,133.25 41.92,136.00 38.10,139.40 C34.28,142.80 29.60,148.98 27.90,150.90 C26.20,152.82 26.20,151.92 27.90,150.90 C29.60,149.88 34.72,146.65 38.10,144.80 C41.48,142.95 44.60,141.07 48.20,139.80 C51.80,138.53 56.42,137.87 59.70,137.20 C62.98,136.53 66.53,136.03 67.90,135.80 C69.27,135.57 67.83,137.77 67.90,135.80 C67.97,133.83 68.40,127.90 68.30,124.00 C68.20,120.10 67.47,114.33 67.30,112.40 Z" fill="#fff"/>
<path d="M87.10,38.00 C87.67,36.68 88.43,34.72 90.50,33.50 C92.57,32.28 96.50,30.98 99.50,30.70 C102.50,30.42 105.87,30.77 108.50,31.80 C111.13,32.83 113.70,35.10 115.30,36.90 C116.90,38.70 117.82,40.72 118.10,42.60 C118.38,44.48 117.85,46.80 117.00,48.20 C116.15,49.60 114.23,50.43 113.00,51.00 C111.77,51.57 110.27,52.43 109.60,51.60 C108.93,50.77 109.75,47.50 109.00,46.00 C108.25,44.50 106.50,43.08 105.10,42.60 C103.70,42.12 102.28,42.63 100.60,43.10 C98.92,43.57 96.68,45.20 95.00,45.40 C93.32,45.60 91.82,44.97 90.50,44.30 C89.18,43.63 87.67,42.45 87.10,41.40 C86.53,40.35 86.53,39.32 87.10,38.00 Z" fill="#f2b9a2" stroke="#f2b9a2" stroke-width="0.8" stroke-dasharray="1.2 0.8"/>
<ellipse cx="106.6" cy="48.3" rx="3.7" ry="5.7" fill="#f2cf00" transform="rotate(-10 106.6 48.3)"/>
<path d="M99.50,44.30 C100.10,43.60 101.45,41.83 102.30,42.30 C103.15,42.77 103.75,45.17 104.60,47.10 C105.45,49.03 106.93,52.30 107.40,53.90 C107.87,55.50 107.78,56.05 107.40,56.70 C107.02,57.35 105.85,58.08 105.10,57.80 C104.35,57.52 103.83,56.22 102.90,55.00 C101.97,53.78 100.20,51.92 99.50,50.50 C98.80,49.08 98.70,47.53 98.70,46.50 C98.70,45.47 98.90,45.00 99.50,44.30 Z" fill="#e6201d"/>
<line x1="106.40" y1="56.50" x2="109.40" y2="63.40" stroke="#3b78c2" stroke-width="2.0"/>
<path d="M99.6,71.5 V84.5 Q99.2,88.0 95.5,90.5" fill="none" stroke="#bbb" stroke-width="0.9"/>
<path d="M104.1,71.5 V84.5 Q104.5,88.0 108.2,90.5" fill="none" stroke="#bbb" stroke-width="0.9"/>
<path d="M97.2,90.6 Q101.8,86.0 106.5,90.6" fill="none" stroke="#bbb" stroke-width="0.9"/>
<path d="M98.5,94.5 Q99,90.5 103,91.5 Q108,94 107.5,99 Q107,104 103,106.5 Q98.5,104 98,99 Z" fill="none" stroke="#aaa" stroke-width="0.8"/>
<path d="M100,96 Q103,93.5 106,96.5" fill="none" stroke="#aaa" stroke-width="0.6"/>
<ellipse cx="101.5" cy="102.0" rx="1.5" ry="2.0" fill="#86c9ef"/>
<ellipse cx="105.2" cy="101.8" rx="1.3" ry="2.4" fill="#f0a03c"/>
<path d="M89.70,79.40 C87.97,79.72 85.60,80.25 83.80,82.80 C82.00,85.35 80.05,91.40 78.90,94.70 C77.75,98.00 76.90,100.13 76.90,102.60 C76.90,105.07 77.42,107.93 78.90,109.50 C80.38,111.07 83.33,111.83 85.80,112.00 C88.27,112.17 91.97,111.73 93.70,110.50 C95.43,109.27 95.78,108.07 96.20,104.60 C96.62,101.13 96.53,93.65 96.20,89.70 C95.87,85.75 95.28,82.62 94.20,80.90 C93.12,79.18 91.43,79.08 89.70,79.40 Z" fill="#6f8ed0"/>
<path d="M112.40,79.40 C110.83,80.22 108.82,82.43 108.00,85.80 C107.18,89.17 107.33,95.65 107.50,99.60 C107.67,103.55 107.52,107.43 109.00,109.50 C110.48,111.57 113.68,112.00 116.40,112.00 C119.12,112.00 123.57,111.23 125.30,109.50 C127.03,107.77 127.13,104.90 126.80,101.60 C126.47,98.30 124.87,93.15 123.30,89.70 C121.73,86.25 119.22,82.62 117.40,80.90 C115.58,79.18 113.97,78.58 112.40,79.40 Z" fill="#6f8ed0"/>
<path d="M79.70,115.10 C80.63,114.30 82.25,113.62 84.30,113.20 C86.35,112.78 89.28,112.80 92.00,112.60 C94.72,112.40 99.03,111.83 100.60,112.00 C102.17,112.17 102.17,112.37 101.40,113.60 C100.63,114.83 98.07,117.92 96.00,119.40 C93.93,120.88 91.33,121.85 89.00,122.50 C86.67,123.15 83.67,123.47 82.00,123.30 C80.33,123.13 79.55,122.38 79.00,121.50 C78.45,120.62 78.58,119.07 78.70,118.00 C78.82,116.93 78.77,115.90 79.70,115.10 Z" fill="#985820"/>
<path d="M103.50,104.50 C103.80,103.85 104.95,103.88 105.20,104.60 C105.45,105.32 103.83,107.88 105.00,108.80 C106.17,109.72 110.73,108.98 112.20,110.10 C113.67,111.22 113.67,113.57 113.80,115.50 C113.93,117.43 113.90,119.82 113.00,121.70 C112.10,123.58 110.33,125.77 108.40,126.80 C106.47,127.83 103.60,128.05 101.40,127.90 C99.20,127.75 97.02,126.38 95.20,125.90 C93.38,125.42 91.77,124.82 90.50,125.00 C89.23,125.18 88.28,126.83 87.60,127.00 C86.92,127.17 86.17,126.67 86.40,126.00 C86.63,125.33 87.90,123.67 89.00,123.00 C90.10,122.33 91.72,122.35 93.00,122.00 C94.28,121.65 95.30,121.60 96.70,120.90 C98.10,120.20 100.37,119.22 101.40,117.80 C102.43,116.38 102.57,113.95 102.90,112.40 C103.23,110.85 103.30,109.82 103.40,108.50 C103.50,107.18 103.20,105.15 103.50,104.50 Z" fill="#94c43f"/>
<path d="M116.10,114.40 C116.63,113.92 117.85,113.60 118.50,113.40 C119.15,113.20 119.50,112.72 120.00,113.20 C120.50,113.68 121.12,115.07 121.50,116.30 C121.88,117.53 122.68,119.88 122.30,120.60 C121.92,121.32 120.10,120.93 119.20,120.60 C118.30,120.27 117.55,119.32 116.90,118.60 C116.25,117.88 115.43,117.00 115.30,116.30 C115.17,115.60 115.57,114.88 116.10,114.40 Z" fill="#58c0b6"/>
<path d="M83.50,127.20 C84.67,126.75 86.90,126.42 88.20,126.80 C89.50,127.18 90.78,128.37 91.30,129.50 C91.82,130.63 91.05,132.43 91.30,133.60 C91.55,134.77 92.18,135.67 92.80,136.50 C93.42,137.33 94.87,137.45 95.00,138.60 C95.13,139.75 94.35,142.08 93.60,143.40 C92.85,144.72 91.92,145.98 90.50,146.50 C89.08,147.02 86.65,147.27 85.10,146.50 C83.55,145.73 81.98,143.97 81.20,141.90 C80.42,139.83 80.40,136.17 80.40,134.10 C80.40,132.03 80.68,130.65 81.20,129.50 C81.72,128.35 82.33,127.65 83.50,127.20 Z" fill="#c25eae"/>
<path d="M118.40,126.80 C119.83,126.93 122.12,127.88 123.10,129.50 C124.08,131.12 124.43,134.05 124.30,136.50 C124.17,138.95 123.53,142.53 122.30,144.20 C121.07,145.87 118.70,146.50 116.90,146.50 C115.10,146.50 112.77,145.35 111.50,144.20 C110.23,143.05 109.18,140.80 109.30,139.60 C109.42,138.40 111.45,138.17 112.20,137.00 C112.95,135.83 113.42,133.98 113.80,132.60 C114.18,131.22 113.73,129.67 114.50,128.70 C115.27,127.73 116.97,126.67 118.40,126.80 Z" fill="#c25eae"/>
<g fill="none" stroke="#d9b987" stroke-width="1.5" stroke-linecap="round" stroke-linejoin="round"><path d="M100,129.2 Q104.5,128.3 107,130.4 Q106,132.6 101.5,132.4 Q97.5,132.6 98.2,134.6 Q102,135.8 106,134.8 Q110,134.4 109.5,137.4 Q107,139.3 103,138.6 Q98.5,138.4 96.5,140.3 Q98.5,142 102.5,141.5 Q107.5,141 109.5,142.4 Q106.5,144.6 101,144.3 Q97,144.4 95.5,145.5"/><path d="M95.0,136.0 Q93.2,138.2 94.8,140.6"/><path d="M111.2,132.6 Q112.8,135.2 111.0,138.2"/><path d="M100.5,135.9 L103.5,136.8"/><path d="M99.5,146.0 L103.5,145.6"/></g>
<line x1="98.30" y1="152.50" x2="98.30" y2="159.00" stroke="#52bcd9" stroke-width="1.3"/>
<ellipse cx="98.00" cy="161.8" rx="2.4" ry="3.3" fill="#52bcd9"/>
<line x1="105.50" y1="152.50" x2="105.50" y2="159.00" stroke="#52bcd9" stroke-width="1.3"/>
<ellipse cx="105.20" cy="161.8" rx="2.4" ry="3.3" fill="#52bcd9"/>
<path d="M129.90,154.90 C130.57,154.48 132.98,154.40 136.00,155.00 C139.02,155.60 144.50,157.08 148.00,158.50 C151.50,159.92 154.62,161.75 157.00,163.50 C159.38,165.25 161.97,167.82 162.30,169.00 C162.63,170.18 161.05,170.60 159.00,170.60 C156.95,170.60 153.17,170.10 150.00,169.00 C146.83,167.90 143.00,165.92 140.00,164.00 C137.00,162.08 133.68,159.02 132.00,157.50 C130.32,155.98 129.23,155.32 129.90,154.90 Z" fill="#d9d5d8" stroke="#f1bfcf" stroke-width="1.1"/>
<line x1="121.20" y1="31.50" x2="231.00" y2="10.60" stroke="#5a5a5a" stroke-width="0.8"/>
<text x="235.60" y="12.70" font-size="13.2" fill="#f6b9a1" stroke="#f6b9a1" stroke-width="0.1" text-anchor="start" dominant-baseline="auto">Cerebral cortex</text>
<line x1="128.60" y1="37.90" x2="231.00" y2="22.90" stroke="#5a5a5a" stroke-width="0.8"/>
<text x="235.60" y="25.40" font-size="13.2" fill="#e6201d" stroke="#e6201d" stroke-width="0.1" text-anchor="start" dominant-baseline="auto">Brainstem</text>
<line x1="130.30" y1="47.40" x2="231.00" y2="36.00" stroke="#5a5a5a" stroke-width="0.8"/>
<text x="235.60" y="37.60" font-size="13.2" fill="#f2cf00" stroke="#f2cf00" stroke-width="0.1" text-anchor="start" dominant-baseline="auto">Cerebellum</text>
<line x1="111.70" y1="57.50" x2="231.00" y2="46.80" stroke="#5a5a5a" stroke-width="0.8"/>
<text x="235.60" y="50.40" font-size="13.2" fill="#3b78c2" stroke="#3b78c2" stroke-width="0.1" text-anchor="start" dominant-baseline="auto">Medulla</text>
<line x1="123.60" y1="81.20" x2="231.00" y2="59.50" stroke="#5a5a5a" stroke-width="0.8"/>
<text x="235.60" y="61.80" font-size="13.2" fill="#6f8ed0" stroke="#6f8ed0" stroke-width="0.1" text-anchor="start" dominant-baseline="auto">Lung</text>
<line x1="142.20" y1="88.70" x2="231.00" y2="71.60" stroke="#5a5a5a" stroke-width="0.8"/>
<text x="235.60" y="74.50" font-size="13.2" fill="#f0a03c" stroke="#f0a03c" stroke-width="0.1" text-anchor="start" dominant-baseline="auto">Left ventricle</text>
<line x1="147.30" y1="98.20" x2="231.00" y2="82.90" stroke="#5a5a5a" stroke-width="0.8"/>
<text x="235.60" y="87.20" font-size="13.2" fill="#86c9ef" stroke="#86c9ef" stroke-width="0.1" text-anchor="start" dominant-baseline="auto">Right ventricle</text>
<line x1="150.60" y1="106.60" x2="231.00" y2="94.60" stroke="#5a5a5a" stroke-width="0.8"/>
<text x="235.60" y="99.60" font-size="13.2" fill="#985820" stroke="#985820" stroke-width="0.1" text-anchor="start" dominant-baseline="auto">Liver</text>
<line x1="152.30" y1="111.70" x2="231.00" y2="108.30" stroke="#5a5a5a" stroke-width="0.8"/>
<text x="235.60" y="111.70" font-size="13.2" fill="#94c43f" stroke="#94c43f" stroke-width="0.1" text-anchor="start" dominant-baseline="auto">Stomach</text>
<line x1="137.10" y1="120.20" x2="231.00" y2="121.00" stroke="#5a5a5a" stroke-width="0.8"/>
<text x="235.60" y="123.90" font-size="13.2" fill="#58c0b6" stroke="#58c0b6" stroke-width="0.1" text-anchor="start" dominant-baseline="auto">Spleen</text>
<line x1="135.40" y1="135.40" x2="231.00" y2="133.70" stroke="#5a5a5a" stroke-width="0.8"/>
<text x="235.60" y="136.50" font-size="13.2" fill="#c25eae" stroke="#c25eae" stroke-width="0.1" text-anchor="start" dominant-baseline="auto">Kidney</text>
<line x1="140.50" y1="143.90" x2="231.00" y2="148.40" stroke="#5a5a5a" stroke-width="0.8"/>
<text x="235.60" y="150.60" font-size="13.2" fill="#d9b987" stroke="#d9b987" stroke-width="0.1" text-anchor="start" dominant-baseline="auto">Intestine</text>
<line x1="162.50" y1="159.10" x2="231.00" y2="162.40" stroke="#5a5a5a" stroke-width="0.8"/>
<text x="235.60" y="165.30" font-size="13.2" fill="#f1bfcf" stroke="#f1bfcf" stroke-width="0.1" text-anchor="start" dominant-baseline="auto">Muscle</text>
<line x1="167.60" y1="168.20" x2="231.00" y2="175.50" stroke="#5a5a5a" stroke-width="0.8"/>
<text x="235.60" y="179.70" font-size="13.2" fill="#52bcd9" stroke="#52bcd9" stroke-width="0.1" text-anchor="start" dominant-baseline="auto">Testis</text>
<text x="130.50" y="241.00" font-size="13.2" fill="#000" stroke="#000" stroke-width="0.1" text-anchor="middle" dominant-baseline="central">Macaca mulatta</text>
<text x="10.00" y="10.30" font-size="13" fill="#000" stroke="#000" stroke-width="0.1" text-anchor="start" dominant-baseline="auto">A</text>
</svg></body></html>
